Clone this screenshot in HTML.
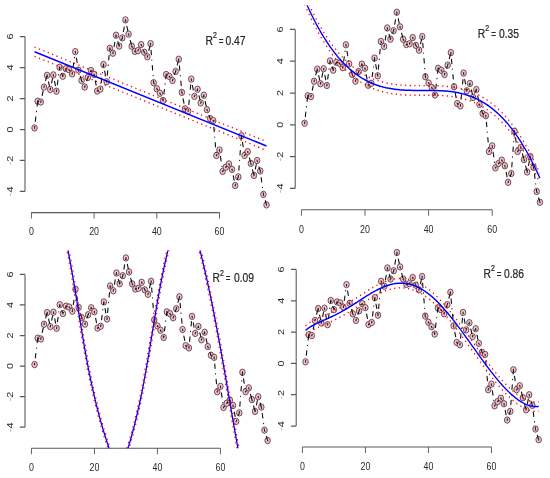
<!DOCTYPE html>
<html><head><meta charset="utf-8"><title>R regression fits</title><style>html,body{margin:0;padding:0;background:#fff;width:550px;height:478px;overflow:hidden}svg{display:block}</style></head><body><svg width="550" height="478" viewBox="0 0 550 478" font-family="Liberation Sans, Arial, sans-serif" fill="#2a2a2a"><rect width="550" height="478" fill="#fff"/><g transform="scale(0.86 1)"><defs><clipPath id="cp1"><rect x="29.07" y="12.50" width="291.63" height="200.10"/></clipPath><clipPath id="cp2"><rect x="343.26" y="5.50" width="295.47" height="204.30"/></clipPath><clipPath id="cp3"><rect x="29.07" y="250.60" width="293.02" height="197.60"/></clipPath><clipPath id="cp4"><rect x="344.42" y="245.00" width="293.95" height="202.00"/></clipPath></defs><g><path d="M29.07 191.42V36.62M29.07 191.42H23.02M29.07 160.46H23.02M29.07 129.50H23.02M29.07 98.54H23.02M29.07 67.58H23.02M29.07 36.62H23.02" stroke="#5a5a5a" stroke-width="1.25" fill="none"/><path d="M36.51 212.60H255.23M36.51 212.60V218.60M109.42 212.60V218.60M182.33 212.60V218.60M255.23 212.60V218.60" stroke="#5a5a5a" stroke-width="1.1" fill="none"/><text transform="translate(11.63 191.42) rotate(-90) scale(1 0.953)" y="3.89" font-size="10.8" text-anchor="middle"><tspan fill="#b8aa88">-</tspan>4</text><text transform="translate(11.63 160.46) rotate(-90) scale(1 0.953)" y="3.89" font-size="10.8" text-anchor="middle"><tspan fill="#b8aa88">-</tspan>2</text><text transform="translate(11.63 129.50) rotate(-90) scale(1 0.953)" y="3.89" font-size="10.8" text-anchor="middle">0</text><text transform="translate(11.63 98.54) rotate(-90) scale(1 0.953)" y="3.89" font-size="10.8" text-anchor="middle">2</text><text transform="translate(11.63 67.58) rotate(-90) scale(1 0.953)" y="3.89" font-size="10.8" text-anchor="middle">4</text><text transform="translate(11.63 36.62) rotate(-90) scale(1 0.953)" y="3.89" font-size="10.8" text-anchor="middle">6</text><text transform="translate(36.51 235.00) scale(0.953 1)" font-size="10.8" text-anchor="middle">0</text><text transform="translate(109.42 235.00) scale(0.953 1)" font-size="10.8" text-anchor="middle">20</text><text transform="translate(182.33 235.00) scale(0.953 1)" font-size="10.8" text-anchor="middle">40</text><text transform="translate(255.23 235.00) scale(0.953 1)" font-size="10.8" text-anchor="middle">60</text><g fill="#f8bfca" stroke="#3e3036" stroke-width="0.85"><circle cx="40.16" cy="127.95" r="3.2"/><circle cx="43.80" cy="101.20" r="3.2"/><circle cx="47.45" cy="102.00" r="3.2"/><circle cx="51.09" cy="87.10" r="3.2"/><circle cx="54.74" cy="75.30" r="3.2"/><circle cx="58.38" cy="89.50" r="3.2"/><circle cx="62.03" cy="74.90" r="3.2"/><circle cx="65.67" cy="91.20" r="3.2"/><circle cx="69.32" cy="67.30" r="3.2"/><circle cx="72.97" cy="76.30" r="3.2"/><circle cx="76.61" cy="68.70" r="3.2"/><circle cx="80.26" cy="69.70" r="3.2"/><circle cx="83.90" cy="73.90" r="3.2"/><circle cx="87.55" cy="51.60" r="3.2"/><circle cx="91.19" cy="70.10" r="3.2"/><circle cx="94.84" cy="80.50" r="3.2"/><circle cx="98.48" cy="87.00" r="3.2"/><circle cx="102.13" cy="77.50" r="3.2"/><circle cx="105.77" cy="70.40" r="3.2"/><circle cx="109.42" cy="74.40" r="3.2"/><circle cx="113.06" cy="91.00" r="3.2"/><circle cx="116.71" cy="89.10" r="3.2"/><circle cx="120.35" cy="64.50" r="3.2"/><circle cx="124.00" cy="81.80" r="3.2"/><circle cx="127.65" cy="48.30" r="3.2"/><circle cx="131.29" cy="53.20" r="3.2"/><circle cx="134.94" cy="35.20" r="3.2"/><circle cx="138.58" cy="46.10" r="3.2"/><circle cx="142.23" cy="37.90" r="3.2"/><circle cx="145.87" cy="19.90" r="3.2"/><circle cx="149.52" cy="34.10" r="3.2"/><circle cx="153.16" cy="46.20" r="3.2"/><circle cx="156.81" cy="51.40" r="3.2"/><circle cx="160.45" cy="50.60" r="3.2"/><circle cx="164.10" cy="44.60" r="3.2"/><circle cx="167.74" cy="52.20" r="3.2"/><circle cx="171.39" cy="56.80" r="3.2"/><circle cx="175.03" cy="43.60" r="3.2"/><circle cx="178.68" cy="82.70" r="3.2"/><circle cx="182.33" cy="88.80" r="3.2"/><circle cx="185.97" cy="93.20" r="3.2"/><circle cx="189.62" cy="100.50" r="3.2"/><circle cx="193.26" cy="74.50" r="3.2"/><circle cx="196.91" cy="76.40" r="3.2"/><circle cx="200.55" cy="80.50" r="3.2"/><circle cx="204.20" cy="71.40" r="3.2"/><circle cx="207.84" cy="59.20" r="3.2"/><circle cx="211.49" cy="92.40" r="3.2"/><circle cx="215.13" cy="108.80" r="3.2"/><circle cx="218.78" cy="111.10" r="3.2"/><circle cx="222.42" cy="79.10" r="3.2"/><circle cx="226.07" cy="96.40" r="3.2"/><circle cx="229.72" cy="89.30" r="3.2"/><circle cx="233.36" cy="102.90" r="3.2"/><circle cx="237.01" cy="95.20" r="3.2"/><circle cx="240.65" cy="109.70" r="3.2"/><circle cx="244.30" cy="118.50" r="3.2"/><circle cx="247.94" cy="120.60" r="3.2"/><circle cx="251.59" cy="155.50" r="3.2"/><circle cx="255.23" cy="150.00" r="3.2"/><circle cx="258.88" cy="171.40" r="3.2"/><circle cx="262.52" cy="167.20" r="3.2"/><circle cx="266.17" cy="163.90" r="3.2"/><circle cx="269.81" cy="169.40" r="3.2"/><circle cx="273.46" cy="185.50" r="3.2"/><circle cx="277.10" cy="176.90" r="3.2"/><circle cx="280.75" cy="135.80" r="3.2"/><circle cx="284.40" cy="155.50" r="3.2"/><circle cx="288.04" cy="151.60" r="3.2"/><circle cx="291.69" cy="163.40" r="3.2"/><circle cx="295.33" cy="175.40" r="3.2"/><circle cx="298.98" cy="160.50" r="3.2"/><circle cx="302.62" cy="171.00" r="3.2"/><circle cx="306.27" cy="194.40" r="3.2"/><circle cx="309.91" cy="204.90" r="3.2"/></g><g fill="#3a1820"><ellipse cx="40.16" cy="127.95" rx="0.75" ry="0.95"/><ellipse cx="43.80" cy="101.20" rx="0.75" ry="0.95"/><ellipse cx="47.45" cy="102.00" rx="0.75" ry="0.95"/><ellipse cx="51.09" cy="87.10" rx="0.75" ry="0.95"/><ellipse cx="54.74" cy="75.30" rx="0.75" ry="0.95"/><ellipse cx="58.38" cy="89.50" rx="0.75" ry="0.95"/><ellipse cx="62.03" cy="74.90" rx="0.75" ry="0.95"/><ellipse cx="65.67" cy="91.20" rx="0.75" ry="0.95"/><ellipse cx="69.32" cy="67.30" rx="0.75" ry="0.95"/><ellipse cx="72.97" cy="76.30" rx="0.75" ry="0.95"/><ellipse cx="76.61" cy="68.70" rx="0.75" ry="0.95"/><ellipse cx="80.26" cy="69.70" rx="0.75" ry="0.95"/><ellipse cx="83.90" cy="73.90" rx="0.75" ry="0.95"/><ellipse cx="87.55" cy="51.60" rx="0.75" ry="0.95"/><ellipse cx="91.19" cy="70.10" rx="0.75" ry="0.95"/><ellipse cx="94.84" cy="80.50" rx="0.75" ry="0.95"/><ellipse cx="98.48" cy="87.00" rx="0.75" ry="0.95"/><ellipse cx="102.13" cy="77.50" rx="0.75" ry="0.95"/><ellipse cx="105.77" cy="70.40" rx="0.75" ry="0.95"/><ellipse cx="109.42" cy="74.40" rx="0.75" ry="0.95"/><ellipse cx="113.06" cy="91.00" rx="0.75" ry="0.95"/><ellipse cx="116.71" cy="89.10" rx="0.75" ry="0.95"/><ellipse cx="120.35" cy="64.50" rx="0.75" ry="0.95"/><ellipse cx="124.00" cy="81.80" rx="0.75" ry="0.95"/><ellipse cx="127.65" cy="48.30" rx="0.75" ry="0.95"/><ellipse cx="131.29" cy="53.20" rx="0.75" ry="0.95"/><ellipse cx="134.94" cy="35.20" rx="0.75" ry="0.95"/><ellipse cx="138.58" cy="46.10" rx="0.75" ry="0.95"/><ellipse cx="142.23" cy="37.90" rx="0.75" ry="0.95"/><ellipse cx="145.87" cy="19.90" rx="0.75" ry="0.95"/><ellipse cx="149.52" cy="34.10" rx="0.75" ry="0.95"/><ellipse cx="153.16" cy="46.20" rx="0.75" ry="0.95"/><ellipse cx="156.81" cy="51.40" rx="0.75" ry="0.95"/><ellipse cx="160.45" cy="50.60" rx="0.75" ry="0.95"/><ellipse cx="164.10" cy="44.60" rx="0.75" ry="0.95"/><ellipse cx="167.74" cy="52.20" rx="0.75" ry="0.95"/><ellipse cx="171.39" cy="56.80" rx="0.75" ry="0.95"/><ellipse cx="175.03" cy="43.60" rx="0.75" ry="0.95"/><ellipse cx="178.68" cy="82.70" rx="0.75" ry="0.95"/><ellipse cx="182.33" cy="88.80" rx="0.75" ry="0.95"/><ellipse cx="185.97" cy="93.20" rx="0.75" ry="0.95"/><ellipse cx="189.62" cy="100.50" rx="0.75" ry="0.95"/><ellipse cx="193.26" cy="74.50" rx="0.75" ry="0.95"/><ellipse cx="196.91" cy="76.40" rx="0.75" ry="0.95"/><ellipse cx="200.55" cy="80.50" rx="0.75" ry="0.95"/><ellipse cx="204.20" cy="71.40" rx="0.75" ry="0.95"/><ellipse cx="207.84" cy="59.20" rx="0.75" ry="0.95"/><ellipse cx="211.49" cy="92.40" rx="0.75" ry="0.95"/><ellipse cx="215.13" cy="108.80" rx="0.75" ry="0.95"/><ellipse cx="218.78" cy="111.10" rx="0.75" ry="0.95"/><ellipse cx="222.42" cy="79.10" rx="0.75" ry="0.95"/><ellipse cx="226.07" cy="96.40" rx="0.75" ry="0.95"/><ellipse cx="229.72" cy="89.30" rx="0.75" ry="0.95"/><ellipse cx="233.36" cy="102.90" rx="0.75" ry="0.95"/><ellipse cx="237.01" cy="95.20" rx="0.75" ry="0.95"/><ellipse cx="240.65" cy="109.70" rx="0.75" ry="0.95"/><ellipse cx="244.30" cy="118.50" rx="0.75" ry="0.95"/><ellipse cx="247.94" cy="120.60" rx="0.75" ry="0.95"/><ellipse cx="251.59" cy="155.50" rx="0.75" ry="0.95"/><ellipse cx="255.23" cy="150.00" rx="0.75" ry="0.95"/><ellipse cx="258.88" cy="171.40" rx="0.75" ry="0.95"/><ellipse cx="262.52" cy="167.20" rx="0.75" ry="0.95"/><ellipse cx="266.17" cy="163.90" rx="0.75" ry="0.95"/><ellipse cx="269.81" cy="169.40" rx="0.75" ry="0.95"/><ellipse cx="273.46" cy="185.50" rx="0.75" ry="0.95"/><ellipse cx="277.10" cy="176.90" rx="0.75" ry="0.95"/><ellipse cx="280.75" cy="135.80" rx="0.75" ry="0.95"/><ellipse cx="284.40" cy="155.50" rx="0.75" ry="0.95"/><ellipse cx="288.04" cy="151.60" rx="0.75" ry="0.95"/><ellipse cx="291.69" cy="163.40" rx="0.75" ry="0.95"/><ellipse cx="295.33" cy="175.40" rx="0.75" ry="0.95"/><ellipse cx="298.98" cy="160.50" rx="0.75" ry="0.95"/><ellipse cx="302.62" cy="171.00" rx="0.75" ry="0.95"/><ellipse cx="306.27" cy="194.40" rx="0.75" ry="0.95"/><ellipse cx="309.91" cy="204.90" rx="0.75" ry="0.95"/></g><g stroke="#111" stroke-width="1.3" stroke-linecap="round" stroke-dasharray="0.1 5.5 4.3 5.5"><line x1="40.31" y1="126.81" x2="43.65" y2="102.34"/><line x1="44.93" y1="101.45" x2="46.32" y2="101.75"/><line x1="47.72" y1="100.88" x2="50.82" y2="88.22"/><line x1="51.43" y1="86.00" x2="54.40" y2="76.40"/><line x1="55.02" y1="76.41" x2="58.10" y2="88.39"/><line x1="58.66" y1="88.38" x2="61.75" y2="76.02"/><line x1="62.28" y1="76.02" x2="65.42" y2="90.08"/><line x1="65.85" y1="90.06" x2="69.15" y2="68.44"/><line x1="69.75" y1="68.37" x2="72.53" y2="75.23"/><line x1="73.46" y1="75.26" x2="76.11" y2="69.74"/><line x1="77.72" y1="69.00" x2="79.15" y2="69.40"/><line x1="81.01" y1="70.57" x2="83.15" y2="73.03"/><line x1="84.09" y1="72.77" x2="87.36" y2="52.73"/><line x1="87.77" y1="52.73" x2="90.97" y2="68.97"/><line x1="91.57" y1="71.19" x2="94.46" y2="79.41"/><line x1="95.40" y1="81.50" x2="97.92" y2="86.00"/><line x1="98.89" y1="85.93" x2="101.72" y2="78.57"/><line x1="102.65" y1="76.48" x2="105.25" y2="71.42"/><line x1="106.55" y1="71.25" x2="108.64" y2="73.55"/><line x1="109.67" y1="75.52" x2="112.82" y2="89.88"/><line x1="114.08" y1="90.47" x2="115.69" y2="89.63"/><line x1="116.88" y1="87.96" x2="120.19" y2="65.64"/><line x1="120.59" y1="65.63" x2="123.76" y2="80.67"/><line x1="124.12" y1="80.66" x2="127.52" y2="49.44"/><line x1="128.33" y1="49.22" x2="130.60" y2="52.28"/><line x1="131.52" y1="52.07" x2="134.71" y2="36.33"/><line x1="135.30" y1="36.29" x2="138.22" y2="45.01"/><line x1="139.05" y1="45.05" x2="141.76" y2="38.95"/><line x1="142.46" y1="36.77" x2="145.64" y2="21.03"/><line x1="146.16" y1="21.01" x2="149.23" y2="32.99"/><line x1="149.85" y1="35.20" x2="152.83" y2="45.10"/><line x1="153.82" y1="47.14" x2="156.15" y2="50.46"/><line x1="157.93" y1="51.15" x2="159.33" y2="50.85"/><line x1="161.05" y1="49.62" x2="163.50" y2="45.58"/><line x1="164.60" y1="45.64" x2="167.25" y2="51.16"/><line x1="168.46" y1="53.10" x2="170.68" y2="55.90"/><line x1="171.70" y1="55.69" x2="174.73" y2="44.71"/><line x1="175.14" y1="44.75" x2="178.57" y2="81.55"/><line x1="179.27" y1="83.69" x2="181.74" y2="87.81"/><line x1="183.06" y1="89.69" x2="185.24" y2="92.31"/><line x1="186.48" y1="94.23" x2="189.10" y2="99.47"/><line x1="189.78" y1="99.36" x2="193.10" y2="75.64"/><line x1="194.28" y1="75.03" x2="195.89" y2="75.87"/><line x1="197.67" y1="77.26" x2="199.79" y2="79.64"/><line x1="200.98" y1="79.43" x2="203.77" y2="72.47"/><line x1="204.53" y1="70.30" x2="207.51" y2="60.30"/><line x1="207.97" y1="60.34" x2="211.36" y2="91.26"/><line x1="211.74" y1="93.52" x2="214.88" y2="107.68"/><line x1="216.11" y1="109.41" x2="217.81" y2="110.49"/><line x1="218.91" y1="109.96" x2="222.29" y2="80.24"/><line x1="222.66" y1="80.23" x2="225.83" y2="95.27"/><line x1="226.60" y1="95.38" x2="229.19" y2="90.32"/><line x1="230.01" y1="90.41" x2="233.06" y2="101.79"/><line x1="233.85" y1="101.86" x2="236.51" y2="96.24"/><line x1="237.29" y1="96.32" x2="240.37" y2="108.58"/><line x1="241.09" y1="110.76" x2="243.86" y2="117.44"/><line x1="245.29" y1="119.07" x2="246.95" y2="120.03"/><line x1="248.06" y1="121.74" x2="251.47" y2="154.36"/><line x1="252.22" y1="154.54" x2="254.60" y2="150.96"/><line x1="255.43" y1="151.13" x2="258.68" y2="170.27"/><line x1="259.63" y1="170.53" x2="261.77" y2="168.07"/><line x1="263.38" y1="166.43" x2="265.32" y2="164.67"/><line x1="266.80" y1="164.86" x2="269.18" y2="168.44"/><line x1="270.07" y1="170.52" x2="273.21" y2="184.38"/><line x1="273.91" y1="184.44" x2="276.66" y2="177.96"/><line x1="277.21" y1="175.75" x2="280.65" y2="136.95"/><line x1="280.96" y1="136.93" x2="284.19" y2="154.37"/><line x1="285.18" y1="154.66" x2="287.26" y2="152.44"/><line x1="288.38" y1="152.70" x2="291.35" y2="162.30"/><line x1="292.02" y1="164.50" x2="295.00" y2="174.30"/><line x1="295.60" y1="174.28" x2="298.70" y2="161.62"/><line x1="299.35" y1="161.59" x2="302.24" y2="169.91"/><line x1="302.80" y1="172.14" x2="306.09" y2="193.26"/><line x1="306.64" y1="195.49" x2="309.54" y2="203.81"/></g><g clip-path="url(#cp1)"><path d="M40.16 51.70L309.91 146.00" stroke="#0000ff" stroke-width="1.5" fill="none"/><path d="M40.16 47.10L309.91 141.60" stroke="#ff0000" stroke-width="1.4" fill="none" stroke-dasharray="1.4 4.0" stroke-dashoffset="0"/><path d="M40.16 56.30L309.91 150.40" stroke="#ff0000" stroke-width="1.4" fill="none" stroke-dasharray="1.4 4.0" stroke-dashoffset="0"/></g><text transform="translate(238.84 45.00) scale(0.953 1)" font-size="12.6" text-anchor="start" stroke="#2a2a2a" stroke-width="0.25">R</text><text transform="translate(247.56 38.40) scale(0.953 1)" font-size="8.568" text-anchor="start" stroke="#2a2a2a" stroke-width="0.25">2</text><text transform="translate(257.21 45.00) scale(0.744 1)" font-size="12.6" text-anchor="middle" stroke="#2a2a2a" stroke-width="0.25">=</text><text transform="translate(285.58 45.00) scale(0.953 1)" font-size="12.6" text-anchor="end" stroke="#2a2a2a" stroke-width="0.25">0.47</text></g><g><path d="M343.26 188.40V29.40M343.26 188.40H337.21M343.26 156.60H337.21M343.26 124.80H337.21M343.26 93.00H337.21M343.26 61.20H337.21M343.26 29.40H337.21" stroke="#5a5a5a" stroke-width="1.25" fill="none"/><path d="M350.47 209.80H572.33M350.47 209.80V215.80M424.42 209.80V215.80M498.37 209.80V215.80M572.33 209.80V215.80" stroke="#5a5a5a" stroke-width="1.1" fill="none"/><text transform="translate(325.81 188.40) rotate(-90) scale(1 0.953)" y="3.89" font-size="10.8" text-anchor="middle"><tspan fill="#b8aa88">-</tspan>4</text><text transform="translate(325.81 156.60) rotate(-90) scale(1 0.953)" y="3.89" font-size="10.8" text-anchor="middle"><tspan fill="#b8aa88">-</tspan>2</text><text transform="translate(325.81 124.80) rotate(-90) scale(1 0.953)" y="3.89" font-size="10.8" text-anchor="middle">0</text><text transform="translate(325.81 93.00) rotate(-90) scale(1 0.953)" y="3.89" font-size="10.8" text-anchor="middle">2</text><text transform="translate(325.81 61.20) rotate(-90) scale(1 0.953)" y="3.89" font-size="10.8" text-anchor="middle">4</text><text transform="translate(325.81 29.40) rotate(-90) scale(1 0.953)" y="3.89" font-size="10.8" text-anchor="middle">6</text><text transform="translate(350.47 233.10) scale(0.953 1)" font-size="10.8" text-anchor="middle">0</text><text transform="translate(424.42 233.10) scale(0.953 1)" font-size="10.8" text-anchor="middle">20</text><text transform="translate(498.37 233.10) scale(0.953 1)" font-size="10.8" text-anchor="middle">40</text><text transform="translate(572.33 233.10) scale(0.953 1)" font-size="10.8" text-anchor="middle">60</text><g fill="#f8bfca" stroke="#3e3036" stroke-width="0.85"><circle cx="354.16" cy="123.21" r="3.2"/><circle cx="357.86" cy="95.73" r="3.2"/><circle cx="361.56" cy="96.55" r="3.2"/><circle cx="365.26" cy="81.25" r="3.2"/><circle cx="368.95" cy="69.13" r="3.2"/><circle cx="372.65" cy="83.71" r="3.2"/><circle cx="376.35" cy="68.72" r="3.2"/><circle cx="380.05" cy="85.46" r="3.2"/><circle cx="383.74" cy="60.91" r="3.2"/><circle cx="387.44" cy="70.16" r="3.2"/><circle cx="391.14" cy="62.35" r="3.2"/><circle cx="394.84" cy="63.38" r="3.2"/><circle cx="398.53" cy="67.69" r="3.2"/><circle cx="402.23" cy="44.79" r="3.2"/><circle cx="405.93" cy="63.79" r="3.2"/><circle cx="409.63" cy="74.47" r="3.2"/><circle cx="413.33" cy="81.15" r="3.2"/><circle cx="417.02" cy="71.39" r="3.2"/><circle cx="420.72" cy="64.10" r="3.2"/><circle cx="424.42" cy="68.21" r="3.2"/><circle cx="428.12" cy="85.26" r="3.2"/><circle cx="431.81" cy="83.30" r="3.2"/><circle cx="435.51" cy="58.04" r="3.2"/><circle cx="439.21" cy="75.81" r="3.2"/><circle cx="442.91" cy="41.40" r="3.2"/><circle cx="446.60" cy="46.43" r="3.2"/><circle cx="450.30" cy="27.94" r="3.2"/><circle cx="454.00" cy="39.14" r="3.2"/><circle cx="457.70" cy="30.71" r="3.2"/><circle cx="461.40" cy="12.23" r="3.2"/><circle cx="465.09" cy="26.81" r="3.2"/><circle cx="468.79" cy="39.24" r="3.2"/><circle cx="472.49" cy="44.58" r="3.2"/><circle cx="476.19" cy="43.76" r="3.2"/><circle cx="479.88" cy="37.60" r="3.2"/><circle cx="483.58" cy="45.40" r="3.2"/><circle cx="487.28" cy="50.13" r="3.2"/><circle cx="490.98" cy="36.57" r="3.2"/><circle cx="494.67" cy="76.73" r="3.2"/><circle cx="498.37" cy="83.00" r="3.2"/><circle cx="502.07" cy="87.52" r="3.2"/><circle cx="505.77" cy="95.01" r="3.2"/><circle cx="509.47" cy="68.31" r="3.2"/><circle cx="513.16" cy="70.26" r="3.2"/><circle cx="516.86" cy="74.47" r="3.2"/><circle cx="520.56" cy="65.12" r="3.2"/><circle cx="524.26" cy="52.59" r="3.2"/><circle cx="527.95" cy="86.69" r="3.2"/><circle cx="531.65" cy="103.54" r="3.2"/><circle cx="535.35" cy="105.90" r="3.2"/><circle cx="539.05" cy="73.03" r="3.2"/><circle cx="542.74" cy="90.80" r="3.2"/><circle cx="546.44" cy="83.51" r="3.2"/><circle cx="550.14" cy="97.48" r="3.2"/><circle cx="553.84" cy="89.57" r="3.2"/><circle cx="557.53" cy="104.46" r="3.2"/><circle cx="561.23" cy="113.50" r="3.2"/><circle cx="564.93" cy="115.66" r="3.2"/><circle cx="568.63" cy="151.51" r="3.2"/><circle cx="572.33" cy="145.86" r="3.2"/><circle cx="576.02" cy="167.84" r="3.2"/><circle cx="579.72" cy="163.52" r="3.2"/><circle cx="583.42" cy="160.13" r="3.2"/><circle cx="587.12" cy="165.78" r="3.2"/><circle cx="590.81" cy="182.32" r="3.2"/><circle cx="594.51" cy="173.49" r="3.2"/><circle cx="598.21" cy="131.27" r="3.2"/><circle cx="601.91" cy="151.51" r="3.2"/><circle cx="605.60" cy="147.50" r="3.2"/><circle cx="609.30" cy="159.62" r="3.2"/><circle cx="613.00" cy="171.95" r="3.2"/><circle cx="616.70" cy="156.64" r="3.2"/><circle cx="620.40" cy="167.43" r="3.2"/><circle cx="624.09" cy="191.46" r="3.2"/><circle cx="627.79" cy="202.25" r="3.2"/></g><g fill="#3a1820"><ellipse cx="354.16" cy="123.21" rx="0.75" ry="0.95"/><ellipse cx="357.86" cy="95.73" rx="0.75" ry="0.95"/><ellipse cx="361.56" cy="96.55" rx="0.75" ry="0.95"/><ellipse cx="365.26" cy="81.25" rx="0.75" ry="0.95"/><ellipse cx="368.95" cy="69.13" rx="0.75" ry="0.95"/><ellipse cx="372.65" cy="83.71" rx="0.75" ry="0.95"/><ellipse cx="376.35" cy="68.72" rx="0.75" ry="0.95"/><ellipse cx="380.05" cy="85.46" rx="0.75" ry="0.95"/><ellipse cx="383.74" cy="60.91" rx="0.75" ry="0.95"/><ellipse cx="387.44" cy="70.16" rx="0.75" ry="0.95"/><ellipse cx="391.14" cy="62.35" rx="0.75" ry="0.95"/><ellipse cx="394.84" cy="63.38" rx="0.75" ry="0.95"/><ellipse cx="398.53" cy="67.69" rx="0.75" ry="0.95"/><ellipse cx="402.23" cy="44.79" rx="0.75" ry="0.95"/><ellipse cx="405.93" cy="63.79" rx="0.75" ry="0.95"/><ellipse cx="409.63" cy="74.47" rx="0.75" ry="0.95"/><ellipse cx="413.33" cy="81.15" rx="0.75" ry="0.95"/><ellipse cx="417.02" cy="71.39" rx="0.75" ry="0.95"/><ellipse cx="420.72" cy="64.10" rx="0.75" ry="0.95"/><ellipse cx="424.42" cy="68.21" rx="0.75" ry="0.95"/><ellipse cx="428.12" cy="85.26" rx="0.75" ry="0.95"/><ellipse cx="431.81" cy="83.30" rx="0.75" ry="0.95"/><ellipse cx="435.51" cy="58.04" rx="0.75" ry="0.95"/><ellipse cx="439.21" cy="75.81" rx="0.75" ry="0.95"/><ellipse cx="442.91" cy="41.40" rx="0.75" ry="0.95"/><ellipse cx="446.60" cy="46.43" rx="0.75" ry="0.95"/><ellipse cx="450.30" cy="27.94" rx="0.75" ry="0.95"/><ellipse cx="454.00" cy="39.14" rx="0.75" ry="0.95"/><ellipse cx="457.70" cy="30.71" rx="0.75" ry="0.95"/><ellipse cx="461.40" cy="12.23" rx="0.75" ry="0.95"/><ellipse cx="465.09" cy="26.81" rx="0.75" ry="0.95"/><ellipse cx="468.79" cy="39.24" rx="0.75" ry="0.95"/><ellipse cx="472.49" cy="44.58" rx="0.75" ry="0.95"/><ellipse cx="476.19" cy="43.76" rx="0.75" ry="0.95"/><ellipse cx="479.88" cy="37.60" rx="0.75" ry="0.95"/><ellipse cx="483.58" cy="45.40" rx="0.75" ry="0.95"/><ellipse cx="487.28" cy="50.13" rx="0.75" ry="0.95"/><ellipse cx="490.98" cy="36.57" rx="0.75" ry="0.95"/><ellipse cx="494.67" cy="76.73" rx="0.75" ry="0.95"/><ellipse cx="498.37" cy="83.00" rx="0.75" ry="0.95"/><ellipse cx="502.07" cy="87.52" rx="0.75" ry="0.95"/><ellipse cx="505.77" cy="95.01" rx="0.75" ry="0.95"/><ellipse cx="509.47" cy="68.31" rx="0.75" ry="0.95"/><ellipse cx="513.16" cy="70.26" rx="0.75" ry="0.95"/><ellipse cx="516.86" cy="74.47" rx="0.75" ry="0.95"/><ellipse cx="520.56" cy="65.12" rx="0.75" ry="0.95"/><ellipse cx="524.26" cy="52.59" rx="0.75" ry="0.95"/><ellipse cx="527.95" cy="86.69" rx="0.75" ry="0.95"/><ellipse cx="531.65" cy="103.54" rx="0.75" ry="0.95"/><ellipse cx="535.35" cy="105.90" rx="0.75" ry="0.95"/><ellipse cx="539.05" cy="73.03" rx="0.75" ry="0.95"/><ellipse cx="542.74" cy="90.80" rx="0.75" ry="0.95"/><ellipse cx="546.44" cy="83.51" rx="0.75" ry="0.95"/><ellipse cx="550.14" cy="97.48" rx="0.75" ry="0.95"/><ellipse cx="553.84" cy="89.57" rx="0.75" ry="0.95"/><ellipse cx="557.53" cy="104.46" rx="0.75" ry="0.95"/><ellipse cx="561.23" cy="113.50" rx="0.75" ry="0.95"/><ellipse cx="564.93" cy="115.66" rx="0.75" ry="0.95"/><ellipse cx="568.63" cy="151.51" rx="0.75" ry="0.95"/><ellipse cx="572.33" cy="145.86" rx="0.75" ry="0.95"/><ellipse cx="576.02" cy="167.84" rx="0.75" ry="0.95"/><ellipse cx="579.72" cy="163.52" rx="0.75" ry="0.95"/><ellipse cx="583.42" cy="160.13" rx="0.75" ry="0.95"/><ellipse cx="587.12" cy="165.78" rx="0.75" ry="0.95"/><ellipse cx="590.81" cy="182.32" rx="0.75" ry="0.95"/><ellipse cx="594.51" cy="173.49" rx="0.75" ry="0.95"/><ellipse cx="598.21" cy="131.27" rx="0.75" ry="0.95"/><ellipse cx="601.91" cy="151.51" rx="0.75" ry="0.95"/><ellipse cx="605.60" cy="147.50" rx="0.75" ry="0.95"/><ellipse cx="609.30" cy="159.62" rx="0.75" ry="0.95"/><ellipse cx="613.00" cy="171.95" rx="0.75" ry="0.95"/><ellipse cx="616.70" cy="156.64" rx="0.75" ry="0.95"/><ellipse cx="620.40" cy="167.43" rx="0.75" ry="0.95"/><ellipse cx="624.09" cy="191.46" rx="0.75" ry="0.95"/><ellipse cx="627.79" cy="202.25" rx="0.75" ry="0.95"/></g><g stroke="#111" stroke-width="1.3" stroke-linecap="round" stroke-dasharray="0.1 5.5 4.3 5.5"><line x1="354.32" y1="122.07" x2="357.71" y2="96.87"/><line x1="358.98" y1="95.98" x2="360.44" y2="96.30"/><line x1="361.83" y1="95.44" x2="364.99" y2="82.37"/><line x1="365.59" y1="80.15" x2="368.62" y2="70.23"/><line x1="369.24" y1="70.24" x2="372.37" y2="82.60"/><line x1="372.93" y1="82.60" x2="376.07" y2="69.84"/><line x1="376.60" y1="69.84" x2="379.80" y2="84.34"/><line x1="380.22" y1="84.32" x2="383.57" y2="62.05"/><line x1="384.17" y1="61.98" x2="387.01" y2="69.09"/><line x1="387.93" y1="69.12" x2="390.65" y2="63.39"/><line x1="392.25" y1="62.66" x2="393.73" y2="63.07"/><line x1="395.59" y1="64.25" x2="397.79" y2="66.82"/><line x1="398.72" y1="66.56" x2="402.05" y2="45.92"/><line x1="402.45" y1="45.92" x2="405.71" y2="62.66"/><line x1="406.31" y1="64.88" x2="409.25" y2="73.38"/><line x1="410.19" y1="75.48" x2="412.77" y2="80.14"/><line x1="413.73" y1="80.07" x2="416.62" y2="72.46"/><line x1="417.54" y1="70.36" x2="420.20" y2="65.12"/><line x1="421.49" y1="64.95" x2="423.65" y2="67.35"/><line x1="424.66" y1="69.33" x2="427.87" y2="84.13"/><line x1="429.13" y1="84.72" x2="430.80" y2="83.84"/><line x1="431.98" y1="82.17" x2="435.35" y2="59.17"/><line x1="435.75" y1="59.16" x2="438.98" y2="74.68"/><line x1="439.33" y1="74.66" x2="442.78" y2="42.54"/><line x1="443.59" y1="42.32" x2="445.92" y2="45.50"/><line x1="446.83" y1="45.30" x2="450.08" y2="29.07"/><line x1="450.66" y1="29.03" x2="453.64" y2="38.05"/><line x1="454.46" y1="38.08" x2="457.24" y2="31.77"/><line x1="457.92" y1="29.59" x2="461.17" y2="13.35"/><line x1="461.68" y1="13.34" x2="464.81" y2="25.70"/><line x1="465.42" y1="27.91" x2="468.46" y2="38.14"/><line x1="469.45" y1="40.19" x2="471.83" y2="43.64"/><line x1="473.61" y1="44.33" x2="475.06" y2="44.01"/><line x1="476.78" y1="42.77" x2="479.29" y2="38.58"/><line x1="480.38" y1="38.64" x2="483.09" y2="44.36"/><line x1="484.29" y1="46.31" x2="486.57" y2="49.22"/><line x1="487.58" y1="49.02" x2="490.67" y2="37.68"/><line x1="491.08" y1="37.71" x2="494.57" y2="75.59"/><line x1="495.26" y1="77.72" x2="497.79" y2="82.01"/><line x1="499.10" y1="83.89" x2="501.34" y2="86.63"/><line x1="502.58" y1="88.55" x2="505.26" y2="93.98"/><line x1="505.93" y1="93.87" x2="509.31" y2="69.45"/><line x1="510.48" y1="68.84" x2="512.15" y2="69.72"/><line x1="513.92" y1="71.12" x2="516.10" y2="73.61"/><line x1="517.28" y1="73.40" x2="520.14" y2="66.19"/><line x1="520.88" y1="64.02" x2="523.93" y2="53.70"/><line x1="524.38" y1="53.74" x2="527.83" y2="85.55"/><line x1="528.20" y1="87.82" x2="531.40" y2="102.42"/><line x1="532.62" y1="104.16" x2="534.38" y2="105.28"/><line x1="535.48" y1="104.76" x2="538.92" y2="74.18"/><line x1="539.28" y1="74.16" x2="542.51" y2="89.68"/><line x1="543.26" y1="89.78" x2="545.92" y2="84.53"/><line x1="546.74" y1="84.62" x2="549.85" y2="96.37"/><line x1="550.63" y1="96.44" x2="553.35" y2="90.61"/><line x1="554.11" y1="90.69" x2="557.26" y2="103.35"/><line x1="557.97" y1="105.53" x2="560.80" y2="112.44"/><line x1="562.23" y1="114.08" x2="563.94" y2="115.08"/><line x1="565.05" y1="116.80" x2="568.51" y2="150.36"/><line x1="569.26" y1="150.54" x2="571.70" y2="146.82"/><line x1="572.52" y1="146.99" x2="575.83" y2="166.70"/><line x1="576.77" y1="166.96" x2="578.97" y2="164.40"/><line x1="580.57" y1="162.75" x2="582.57" y2="160.91"/><line x1="584.05" y1="161.10" x2="586.49" y2="164.82"/><line x1="587.37" y1="166.90" x2="590.56" y2="181.20"/><line x1="591.26" y1="181.26" x2="594.07" y2="174.55"/><line x1="594.61" y1="172.34" x2="598.11" y2="132.42"/><line x1="598.42" y1="132.40" x2="601.70" y2="150.37"/><line x1="602.69" y1="150.66" x2="604.82" y2="148.34"/><line x1="605.94" y1="148.60" x2="608.97" y2="158.52"/><line x1="609.63" y1="160.72" x2="612.67" y2="170.84"/><line x1="613.27" y1="170.83" x2="616.43" y2="157.76"/><line x1="617.07" y1="157.73" x2="620.02" y2="166.34"/><line x1="620.57" y1="168.56" x2="623.92" y2="190.32"/><line x1="624.47" y1="192.55" x2="627.42" y2="201.16"/></g><g clip-path="url(#cp2)"><path d="M354.16 -0.38L355.88 2.99L357.60 6.27L359.33 9.48L361.05 12.60L362.77 15.64L364.49 18.60L366.21 21.48L367.93 24.28L369.65 27.00L371.37 29.65L373.09 32.23L374.81 34.73L376.53 37.16L378.26 39.52L379.98 41.80L381.70 44.02L383.42 46.17L385.14 48.25L386.86 50.27L388.58 52.22L390.30 54.10L392.02 55.92L393.74 57.69L395.47 59.39L397.19 61.03L398.91 62.61L400.63 64.13L402.35 65.60L404.07 67.01L405.79 68.37L407.51 69.67L409.23 70.93L410.95 72.13L412.67 73.28L414.40 74.38L416.12 75.43L417.84 76.44L419.56 77.40L421.28 78.31L423.00 79.18L424.72 80.01L426.44 80.80L428.16 81.55L429.88 82.26L431.60 82.92L433.33 83.56L435.05 84.15L436.77 84.71L438.49 85.24L440.21 85.73L441.93 86.19L443.65 86.62L445.37 87.02L447.09 87.39L448.81 87.74L450.53 88.05L452.26 88.34L453.98 88.61L455.70 88.85L457.42 89.07L459.14 89.27L460.86 89.45L462.58 89.61L464.30 89.75L466.02 89.88L467.74 89.99L469.47 90.08L471.19 90.16L472.91 90.23L474.63 90.28L476.35 90.33L478.07 90.37L479.79 90.39L481.51 90.41L483.23 90.42L484.95 90.43L486.67 90.44L488.40 90.44L490.12 90.43L491.84 90.43L493.56 90.43L495.28 90.43L497.00 90.43L498.72 90.43L500.44 90.44L502.16 90.45L503.88 90.47L505.60 90.50L507.33 90.54L509.05 90.58L510.77 90.64L512.49 90.71L514.21 90.79L515.93 90.88L517.65 90.99L519.37 91.12L521.09 91.26L522.81 91.43L524.53 91.61L526.26 91.81L527.98 92.03L529.70 92.28L531.42 92.54L533.14 92.84L534.86 93.16L536.58 93.50L538.30 93.88L540.02 94.28L541.74 94.71L543.47 95.17L545.19 95.67L546.91 96.20L548.63 96.76L550.35 97.36L552.07 97.99L553.79 98.67L555.51 99.38L557.23 100.13L558.95 100.92L560.67 101.75L562.40 102.62L564.12 103.54L565.84 104.51L567.56 105.52L569.28 106.58L571.00 107.68L572.72 108.84L574.44 110.04L576.16 111.30L577.88 112.60L579.60 113.97L581.33 115.38L583.05 116.86L584.77 118.38L586.49 119.97L588.21 121.62L589.93 123.32L591.65 125.09L593.37 126.92L595.09 128.81L596.81 130.76L598.53 132.78L600.26 134.87L601.98 137.02L603.70 139.25L605.42 141.54L607.14 143.90L608.86 146.34L610.58 148.84L612.30 151.43L614.02 154.08L615.74 156.81L617.47 159.62L619.19 162.51L620.91 165.48L622.63 168.52L624.35 171.65L626.07 174.86L627.79 178.15" stroke="#0000ff" stroke-width="1.5" fill="none"/><path d="M354.16 -5.18L355.88 -1.81L357.60 1.47L359.33 4.68L361.05 7.80L362.77 10.84L364.49 13.80L366.21 16.68L367.93 19.48L369.65 22.20L371.37 24.85L373.09 27.43L374.81 29.93L376.53 32.36L378.26 34.72L379.98 37.00L381.70 39.22L383.42 41.37L385.14 43.45L386.86 45.47L388.58 47.42L390.30 49.30L392.02 51.12L393.74 52.89L395.47 54.59L397.19 56.23L398.91 57.81L400.63 59.33L402.35 60.80L404.07 62.21L405.79 63.57L407.51 64.87L409.23 66.13L410.95 67.33L412.67 68.48L414.40 69.58L416.12 70.63L417.84 71.64L419.56 72.60L421.28 73.51L423.00 74.38L424.72 75.21L426.44 76.00L428.16 76.75L429.88 77.46L431.60 78.12L433.33 78.76L435.05 79.35L436.77 79.91L438.49 80.44L440.21 80.93L441.93 81.39L443.65 81.82L445.37 82.22L447.09 82.59L448.81 82.94L450.53 83.25L452.26 83.54L453.98 83.81L455.70 84.05L457.42 84.27L459.14 84.47L460.86 84.65L462.58 84.81L464.30 84.95L466.02 85.08L467.74 85.19L469.47 85.28L471.19 85.36L472.91 85.43L474.63 85.48L476.35 85.53L478.07 85.57L479.79 85.59L481.51 85.61L483.23 85.62L484.95 85.63L486.67 85.64L488.40 85.64L490.12 85.63L491.84 85.63L493.56 85.63L495.28 85.63L497.00 85.63L498.72 85.63L500.44 85.64L502.16 85.65L503.88 85.67L505.60 85.70L507.33 85.74L509.05 85.78L510.77 85.84L512.49 85.91L514.21 85.99L515.93 86.08L517.65 86.19L519.37 86.32L521.09 86.46L522.81 86.63L524.53 86.81L526.26 87.01L527.98 87.23L529.70 87.48L531.42 87.74L533.14 88.04L534.86 88.36L536.58 88.70L538.30 89.08L540.02 89.48L541.74 89.91L543.47 90.37L545.19 90.87L546.91 91.40L548.63 91.96L550.35 92.56L552.07 93.19L553.79 93.87L555.51 94.58L557.23 95.33L558.95 96.12L560.67 96.95L562.40 97.82L564.12 98.74L565.84 99.71L567.56 100.72L569.28 101.78L571.00 102.88L572.72 104.04L574.44 105.24L576.16 106.50L577.88 107.80L579.60 109.17L581.33 110.58L583.05 112.06L584.77 113.58L586.49 115.17L588.21 116.82L589.93 118.52L591.65 120.29L593.37 122.12L595.09 124.01L596.81 125.96L598.53 127.98L600.26 130.07L601.98 132.22L603.70 134.45L605.42 136.74L607.14 139.10L608.86 141.54L610.58 144.04L612.30 146.63L614.02 149.28L615.74 152.01L617.47 154.82L619.19 157.71L620.91 160.68L622.63 163.72L624.35 166.85L626.07 170.06L627.79 173.35" stroke="#ff0000" stroke-width="1.4" fill="none" stroke-dasharray="1.4 4.0" stroke-dashoffset="0"/><path d="M354.16 4.42L355.88 7.79L357.60 11.07L359.33 14.28L361.05 17.40L362.77 20.44L364.49 23.40L366.21 26.28L367.93 29.08L369.65 31.80L371.37 34.45L373.09 37.03L374.81 39.53L376.53 41.96L378.26 44.32L379.98 46.60L381.70 48.82L383.42 50.97L385.14 53.05L386.86 55.07L388.58 57.02L390.30 58.90L392.02 60.72L393.74 62.49L395.47 64.19L397.19 65.83L398.91 67.41L400.63 68.93L402.35 70.40L404.07 71.81L405.79 73.17L407.51 74.47L409.23 75.73L410.95 76.93L412.67 78.08L414.40 79.18L416.12 80.23L417.84 81.24L419.56 82.20L421.28 83.11L423.00 83.98L424.72 84.81L426.44 85.60L428.16 86.35L429.88 87.06L431.60 87.72L433.33 88.36L435.05 88.95L436.77 89.51L438.49 90.04L440.21 90.53L441.93 90.99L443.65 91.42L445.37 91.82L447.09 92.19L448.81 92.54L450.53 92.85L452.26 93.14L453.98 93.41L455.70 93.65L457.42 93.87L459.14 94.07L460.86 94.25L462.58 94.41L464.30 94.55L466.02 94.68L467.74 94.79L469.47 94.88L471.19 94.96L472.91 95.03L474.63 95.08L476.35 95.13L478.07 95.17L479.79 95.19L481.51 95.21L483.23 95.22L484.95 95.23L486.67 95.24L488.40 95.24L490.12 95.23L491.84 95.23L493.56 95.23L495.28 95.23L497.00 95.23L498.72 95.23L500.44 95.24L502.16 95.25L503.88 95.27L505.60 95.30L507.33 95.34L509.05 95.38L510.77 95.44L512.49 95.51L514.21 95.59L515.93 95.68L517.65 95.79L519.37 95.92L521.09 96.06L522.81 96.23L524.53 96.41L526.26 96.61L527.98 96.83L529.70 97.08L531.42 97.34L533.14 97.64L534.86 97.96L536.58 98.30L538.30 98.68L540.02 99.08L541.74 99.51L543.47 99.97L545.19 100.47L546.91 101.00L548.63 101.56L550.35 102.16L552.07 102.79L553.79 103.47L555.51 104.18L557.23 104.93L558.95 105.72L560.67 106.55L562.40 107.42L564.12 108.34L565.84 109.31L567.56 110.32L569.28 111.38L571.00 112.48L572.72 113.64L574.44 114.84L576.16 116.10L577.88 117.40L579.60 118.77L581.33 120.18L583.05 121.66L584.77 123.18L586.49 124.77L588.21 126.42L589.93 128.12L591.65 129.89L593.37 131.72L595.09 133.61L596.81 135.56L598.53 137.58L600.26 139.67L601.98 141.82L603.70 144.05L605.42 146.34L607.14 148.70L608.86 151.14L610.58 153.64L612.30 156.23L614.02 158.88L615.74 161.61L617.47 164.42L619.19 167.31L620.91 170.28L622.63 173.32L624.35 176.45L626.07 179.66L627.79 182.95" stroke="#ff0000" stroke-width="1.4" fill="none" stroke-dasharray="1.4 4.0" stroke-dashoffset="0"/></g><text transform="translate(555.47 37.50) scale(0.953 1)" font-size="12.6" text-anchor="start" stroke="#2a2a2a" stroke-width="0.25">R</text><text transform="translate(564.19 30.90) scale(0.953 1)" font-size="8.568" text-anchor="start" stroke="#2a2a2a" stroke-width="0.25">2</text><text transform="translate(573.84 37.50) scale(0.744 1)" font-size="12.6" text-anchor="middle" stroke="#2a2a2a" stroke-width="0.25">=</text><text transform="translate(603.49 37.50) scale(0.953 1)" font-size="12.6" text-anchor="end" stroke="#2a2a2a" stroke-width="0.25">0.35</text></g><g><path d="M29.07 427.22V274.42M29.07 427.22H23.02M29.07 396.66H23.02M29.07 366.10H23.02M29.07 335.54H23.02M29.07 304.98H23.02M29.07 274.42H23.02" stroke="#5a5a5a" stroke-width="1.25" fill="none"/><path d="M36.51 448.20H256.28M36.51 448.20V454.20M109.77 448.20V454.20M183.02 448.20V454.20M256.28 448.20V454.20" stroke="#5a5a5a" stroke-width="1.1" fill="none"/><text transform="translate(11.63 427.22) rotate(-90) scale(1 0.953)" y="3.89" font-size="10.8" text-anchor="middle"><tspan fill="#b8aa88">-</tspan>4</text><text transform="translate(11.63 396.66) rotate(-90) scale(1 0.953)" y="3.89" font-size="10.8" text-anchor="middle"><tspan fill="#b8aa88">-</tspan>2</text><text transform="translate(11.63 366.10) rotate(-90) scale(1 0.953)" y="3.89" font-size="10.8" text-anchor="middle">0</text><text transform="translate(11.63 335.54) rotate(-90) scale(1 0.953)" y="3.89" font-size="10.8" text-anchor="middle">2</text><text transform="translate(11.63 304.98) rotate(-90) scale(1 0.953)" y="3.89" font-size="10.8" text-anchor="middle">4</text><text transform="translate(11.63 274.42) rotate(-90) scale(1 0.953)" y="3.89" font-size="10.8" text-anchor="middle">6</text><text transform="translate(36.51 470.60) scale(0.953 1)" font-size="10.8" text-anchor="middle">0</text><text transform="translate(109.77 470.60) scale(0.953 1)" font-size="10.8" text-anchor="middle">20</text><text transform="translate(183.02 470.60) scale(0.953 1)" font-size="10.8" text-anchor="middle">40</text><text transform="translate(256.28 470.60) scale(0.953 1)" font-size="10.8" text-anchor="middle">60</text><g fill="#f8bfca" stroke="#3e3036" stroke-width="0.85"><circle cx="40.17" cy="364.57" r="3.2"/><circle cx="43.84" cy="338.17" r="3.2"/><circle cx="47.50" cy="338.96" r="3.2"/><circle cx="51.16" cy="324.25" r="3.2"/><circle cx="54.83" cy="312.60" r="3.2"/><circle cx="58.49" cy="326.62" r="3.2"/><circle cx="62.15" cy="312.21" r="3.2"/><circle cx="65.81" cy="328.29" r="3.2"/><circle cx="69.48" cy="304.70" r="3.2"/><circle cx="73.14" cy="313.59" r="3.2"/><circle cx="76.80" cy="306.09" r="3.2"/><circle cx="80.47" cy="307.07" r="3.2"/><circle cx="84.13" cy="311.22" r="3.2"/><circle cx="87.79" cy="289.21" r="3.2"/><circle cx="91.45" cy="307.47" r="3.2"/><circle cx="95.12" cy="317.73" r="3.2"/><circle cx="98.78" cy="324.15" r="3.2"/><circle cx="102.44" cy="314.77" r="3.2"/><circle cx="106.10" cy="307.76" r="3.2"/><circle cx="109.77" cy="311.71" r="3.2"/><circle cx="113.43" cy="328.10" r="3.2"/><circle cx="117.09" cy="326.22" r="3.2"/><circle cx="120.76" cy="301.94" r="3.2"/><circle cx="124.42" cy="319.02" r="3.2"/><circle cx="128.08" cy="285.95" r="3.2"/><circle cx="131.74" cy="290.79" r="3.2"/><circle cx="135.41" cy="273.02" r="3.2"/><circle cx="139.07" cy="283.78" r="3.2"/><circle cx="142.73" cy="275.68" r="3.2"/><circle cx="146.40" cy="257.92" r="3.2"/><circle cx="150.06" cy="271.93" r="3.2"/><circle cx="153.72" cy="283.88" r="3.2"/><circle cx="157.38" cy="289.01" r="3.2"/><circle cx="161.05" cy="288.22" r="3.2"/><circle cx="164.71" cy="282.30" r="3.2"/><circle cx="168.37" cy="289.80" r="3.2"/><circle cx="172.03" cy="294.34" r="3.2"/><circle cx="175.70" cy="281.31" r="3.2"/><circle cx="179.36" cy="319.90" r="3.2"/><circle cx="183.02" cy="325.93" r="3.2"/><circle cx="186.69" cy="330.27" r="3.2"/><circle cx="190.35" cy="337.47" r="3.2"/><circle cx="194.01" cy="311.81" r="3.2"/><circle cx="197.67" cy="313.69" r="3.2"/><circle cx="201.34" cy="317.73" r="3.2"/><circle cx="205.00" cy="308.75" r="3.2"/><circle cx="208.66" cy="296.71" r="3.2"/><circle cx="212.33" cy="329.48" r="3.2"/><circle cx="215.99" cy="345.67" r="3.2"/><circle cx="219.65" cy="347.94" r="3.2"/><circle cx="223.31" cy="316.35" r="3.2"/><circle cx="226.98" cy="333.43" r="3.2"/><circle cx="230.64" cy="326.42" r="3.2"/><circle cx="234.30" cy="339.84" r="3.2"/><circle cx="237.97" cy="332.24" r="3.2"/><circle cx="241.63" cy="346.56" r="3.2"/><circle cx="245.29" cy="355.24" r="3.2"/><circle cx="248.95" cy="357.31" r="3.2"/><circle cx="252.62" cy="391.76" r="3.2"/><circle cx="256.28" cy="386.34" r="3.2"/><circle cx="259.94" cy="407.46" r="3.2"/><circle cx="263.60" cy="403.31" r="3.2"/><circle cx="267.27" cy="400.06" r="3.2"/><circle cx="270.93" cy="405.48" r="3.2"/><circle cx="274.59" cy="421.38" r="3.2"/><circle cx="278.26" cy="412.89" r="3.2"/><circle cx="281.92" cy="372.32" r="3.2"/><circle cx="285.58" cy="391.76" r="3.2"/><circle cx="289.24" cy="387.91" r="3.2"/><circle cx="292.91" cy="399.56" r="3.2"/><circle cx="296.57" cy="411.41" r="3.2"/><circle cx="300.23" cy="396.70" r="3.2"/><circle cx="303.90" cy="407.06" r="3.2"/><circle cx="307.56" cy="430.16" r="3.2"/><circle cx="311.22" cy="440.53" r="3.2"/></g><g fill="#3a1820"><ellipse cx="40.17" cy="364.57" rx="0.75" ry="0.95"/><ellipse cx="43.84" cy="338.17" rx="0.75" ry="0.95"/><ellipse cx="47.50" cy="338.96" rx="0.75" ry="0.95"/><ellipse cx="51.16" cy="324.25" rx="0.75" ry="0.95"/><ellipse cx="54.83" cy="312.60" rx="0.75" ry="0.95"/><ellipse cx="58.49" cy="326.62" rx="0.75" ry="0.95"/><ellipse cx="62.15" cy="312.21" rx="0.75" ry="0.95"/><ellipse cx="65.81" cy="328.29" rx="0.75" ry="0.95"/><ellipse cx="69.48" cy="304.70" rx="0.75" ry="0.95"/><ellipse cx="73.14" cy="313.59" rx="0.75" ry="0.95"/><ellipse cx="76.80" cy="306.09" rx="0.75" ry="0.95"/><ellipse cx="80.47" cy="307.07" rx="0.75" ry="0.95"/><ellipse cx="84.13" cy="311.22" rx="0.75" ry="0.95"/><ellipse cx="87.79" cy="289.21" rx="0.75" ry="0.95"/><ellipse cx="91.45" cy="307.47" rx="0.75" ry="0.95"/><ellipse cx="95.12" cy="317.73" rx="0.75" ry="0.95"/><ellipse cx="98.78" cy="324.15" rx="0.75" ry="0.95"/><ellipse cx="102.44" cy="314.77" rx="0.75" ry="0.95"/><ellipse cx="106.10" cy="307.76" rx="0.75" ry="0.95"/><ellipse cx="109.77" cy="311.71" rx="0.75" ry="0.95"/><ellipse cx="113.43" cy="328.10" rx="0.75" ry="0.95"/><ellipse cx="117.09" cy="326.22" rx="0.75" ry="0.95"/><ellipse cx="120.76" cy="301.94" rx="0.75" ry="0.95"/><ellipse cx="124.42" cy="319.02" rx="0.75" ry="0.95"/><ellipse cx="128.08" cy="285.95" rx="0.75" ry="0.95"/><ellipse cx="131.74" cy="290.79" rx="0.75" ry="0.95"/><ellipse cx="135.41" cy="273.02" rx="0.75" ry="0.95"/><ellipse cx="139.07" cy="283.78" rx="0.75" ry="0.95"/><ellipse cx="142.73" cy="275.68" rx="0.75" ry="0.95"/><ellipse cx="146.40" cy="257.92" rx="0.75" ry="0.95"/><ellipse cx="150.06" cy="271.93" rx="0.75" ry="0.95"/><ellipse cx="153.72" cy="283.88" rx="0.75" ry="0.95"/><ellipse cx="157.38" cy="289.01" rx="0.75" ry="0.95"/><ellipse cx="161.05" cy="288.22" rx="0.75" ry="0.95"/><ellipse cx="164.71" cy="282.30" rx="0.75" ry="0.95"/><ellipse cx="168.37" cy="289.80" rx="0.75" ry="0.95"/><ellipse cx="172.03" cy="294.34" rx="0.75" ry="0.95"/><ellipse cx="175.70" cy="281.31" rx="0.75" ry="0.95"/><ellipse cx="179.36" cy="319.90" rx="0.75" ry="0.95"/><ellipse cx="183.02" cy="325.93" rx="0.75" ry="0.95"/><ellipse cx="186.69" cy="330.27" rx="0.75" ry="0.95"/><ellipse cx="190.35" cy="337.47" rx="0.75" ry="0.95"/><ellipse cx="194.01" cy="311.81" rx="0.75" ry="0.95"/><ellipse cx="197.67" cy="313.69" rx="0.75" ry="0.95"/><ellipse cx="201.34" cy="317.73" rx="0.75" ry="0.95"/><ellipse cx="205.00" cy="308.75" rx="0.75" ry="0.95"/><ellipse cx="208.66" cy="296.71" rx="0.75" ry="0.95"/><ellipse cx="212.33" cy="329.48" rx="0.75" ry="0.95"/><ellipse cx="215.99" cy="345.67" rx="0.75" ry="0.95"/><ellipse cx="219.65" cy="347.94" rx="0.75" ry="0.95"/><ellipse cx="223.31" cy="316.35" rx="0.75" ry="0.95"/><ellipse cx="226.98" cy="333.43" rx="0.75" ry="0.95"/><ellipse cx="230.64" cy="326.42" rx="0.75" ry="0.95"/><ellipse cx="234.30" cy="339.84" rx="0.75" ry="0.95"/><ellipse cx="237.97" cy="332.24" rx="0.75" ry="0.95"/><ellipse cx="241.63" cy="346.56" rx="0.75" ry="0.95"/><ellipse cx="245.29" cy="355.24" rx="0.75" ry="0.95"/><ellipse cx="248.95" cy="357.31" rx="0.75" ry="0.95"/><ellipse cx="252.62" cy="391.76" rx="0.75" ry="0.95"/><ellipse cx="256.28" cy="386.34" rx="0.75" ry="0.95"/><ellipse cx="259.94" cy="407.46" rx="0.75" ry="0.95"/><ellipse cx="263.60" cy="403.31" rx="0.75" ry="0.95"/><ellipse cx="267.27" cy="400.06" rx="0.75" ry="0.95"/><ellipse cx="270.93" cy="405.48" rx="0.75" ry="0.95"/><ellipse cx="274.59" cy="421.38" rx="0.75" ry="0.95"/><ellipse cx="278.26" cy="412.89" rx="0.75" ry="0.95"/><ellipse cx="281.92" cy="372.32" rx="0.75" ry="0.95"/><ellipse cx="285.58" cy="391.76" rx="0.75" ry="0.95"/><ellipse cx="289.24" cy="387.91" rx="0.75" ry="0.95"/><ellipse cx="292.91" cy="399.56" rx="0.75" ry="0.95"/><ellipse cx="296.57" cy="411.41" rx="0.75" ry="0.95"/><ellipse cx="300.23" cy="396.70" rx="0.75" ry="0.95"/><ellipse cx="303.90" cy="407.06" rx="0.75" ry="0.95"/><ellipse cx="307.56" cy="430.16" rx="0.75" ry="0.95"/><ellipse cx="311.22" cy="440.53" rx="0.75" ry="0.95"/></g><g stroke="#111" stroke-width="1.3" stroke-linecap="round" stroke-dasharray="0.1 5.5 4.3 5.5"><line x1="40.33" y1="363.43" x2="43.68" y2="339.30"/><line x1="44.96" y1="338.41" x2="46.38" y2="338.71"/><line x1="47.78" y1="337.84" x2="50.88" y2="325.36"/><line x1="51.51" y1="323.15" x2="54.48" y2="313.70"/><line x1="55.12" y1="313.71" x2="58.20" y2="325.50"/><line x1="58.77" y1="325.50" x2="61.87" y2="313.32"/><line x1="62.41" y1="313.33" x2="65.56" y2="327.17"/><line x1="65.99" y1="327.16" x2="69.30" y2="305.84"/><line x1="69.92" y1="305.77" x2="72.70" y2="312.52"/><line x1="73.64" y1="312.55" x2="76.30" y2="307.12"/><line x1="77.91" y1="306.38" x2="79.35" y2="306.77"/><line x1="81.23" y1="307.93" x2="83.37" y2="310.36"/><line x1="84.32" y1="310.08" x2="87.60" y2="290.34"/><line x1="88.02" y1="290.33" x2="91.23" y2="306.34"/><line x1="91.84" y1="308.55" x2="94.73" y2="316.65"/><line x1="95.69" y1="318.73" x2="98.21" y2="323.15"/><line x1="99.20" y1="323.08" x2="102.02" y2="315.84"/><line x1="102.97" y1="313.75" x2="105.57" y2="308.78"/><line x1="106.89" y1="308.61" x2="108.99" y2="310.87"/><line x1="110.02" y1="312.83" x2="113.18" y2="326.98"/><line x1="114.45" y1="327.57" x2="116.07" y2="326.75"/><line x1="117.26" y1="325.08" x2="120.58" y2="303.08"/><line x1="121.00" y1="303.06" x2="124.18" y2="317.89"/><line x1="124.55" y1="317.87" x2="127.95" y2="287.09"/><line x1="128.78" y1="286.87" x2="131.05" y2="289.87"/><line x1="131.98" y1="289.66" x2="135.17" y2="274.14"/><line x1="135.78" y1="274.11" x2="138.70" y2="282.69"/><line x1="139.54" y1="282.73" x2="142.26" y2="276.73"/><line x1="142.96" y1="274.56" x2="146.16" y2="259.04"/><line x1="146.69" y1="259.03" x2="149.77" y2="270.82"/><line x1="150.40" y1="273.03" x2="153.38" y2="282.78"/><line x1="154.39" y1="284.81" x2="156.72" y2="288.07"/><line x1="158.51" y1="288.77" x2="159.92" y2="288.46"/><line x1="161.65" y1="287.24" x2="164.10" y2="283.27"/><line x1="165.21" y1="283.33" x2="167.87" y2="288.77"/><line x1="169.09" y1="290.69" x2="171.31" y2="293.44"/><line x1="172.35" y1="293.23" x2="175.39" y2="282.42"/><line x1="175.81" y1="282.45" x2="179.25" y2="318.76"/><line x1="179.96" y1="320.89" x2="182.43" y2="324.94"/><line x1="183.76" y1="326.80" x2="185.94" y2="329.39"/><line x1="187.21" y1="331.29" x2="189.83" y2="336.45"/><line x1="190.51" y1="336.34" x2="193.85" y2="312.95"/><line x1="195.04" y1="312.33" x2="196.65" y2="313.16"/><line x1="198.45" y1="314.54" x2="200.57" y2="316.88"/><line x1="201.77" y1="316.67" x2="204.57" y2="309.82"/><line x1="205.33" y1="307.65" x2="208.33" y2="297.81"/><line x1="208.79" y1="297.85" x2="212.20" y2="328.34"/><line x1="212.58" y1="330.60" x2="215.73" y2="344.55"/><line x1="216.97" y1="346.27" x2="218.67" y2="347.33"/><line x1="219.78" y1="346.80" x2="223.18" y2="317.49"/><line x1="223.56" y1="317.48" x2="226.74" y2="332.30"/><line x1="227.51" y1="332.41" x2="230.11" y2="327.44"/><line x1="230.94" y1="327.53" x2="234.00" y2="338.73"/><line x1="234.80" y1="338.81" x2="237.47" y2="333.28"/><line x1="238.25" y1="333.36" x2="241.34" y2="345.44"/><line x1="242.07" y1="347.62" x2="244.84" y2="354.18"/><line x1="246.29" y1="355.81" x2="247.95" y2="356.75"/><line x1="249.08" y1="358.46" x2="252.49" y2="390.62"/><line x1="253.26" y1="390.81" x2="255.64" y2="387.29"/><line x1="256.48" y1="387.47" x2="259.75" y2="406.33"/><line x1="260.70" y1="406.60" x2="262.84" y2="404.17"/><line x1="264.46" y1="402.55" x2="266.41" y2="400.82"/><line x1="267.91" y1="401.01" x2="270.29" y2="404.53"/><line x1="271.19" y1="406.61" x2="274.33" y2="420.26"/><line x1="275.05" y1="420.32" x2="277.80" y2="413.94"/><line x1="278.36" y1="411.74" x2="281.82" y2="373.46"/><line x1="282.13" y1="373.45" x2="285.37" y2="390.63"/><line x1="286.37" y1="390.93" x2="288.45" y2="388.75"/><line x1="289.59" y1="389.01" x2="292.56" y2="398.46"/><line x1="293.25" y1="400.66" x2="296.23" y2="410.31"/><line x1="296.85" y1="410.29" x2="299.95" y2="397.82"/><line x1="300.62" y1="397.78" x2="303.51" y2="405.98"/><line x1="304.08" y1="408.20" x2="307.38" y2="429.03"/><line x1="307.94" y1="431.25" x2="310.84" y2="439.44"/></g><g clip-path="url(#cp3)"><path d="M78.23 246.70L78.82 249.29L79.41 251.88L79.99 254.48L80.56 257.07L81.12 259.66L81.67 262.25L82.22 264.85L82.76 267.44L83.29 270.03L83.82 272.62L84.35 275.22L84.87 277.81L85.38 280.40L85.89 282.99L86.40 285.59L86.90 288.18L87.40 290.77L87.89 293.36L88.39 295.96L88.88 298.55L89.37 301.14L89.86 303.73L90.35 306.33L90.84 308.92L91.33 311.51L91.81 314.10L92.30 316.69L92.79 319.29L93.28 321.88L93.78 324.47L94.27 327.06L94.77 329.66L95.27 332.25L95.78 334.84L96.29 337.43L96.80 340.03L97.32 342.62L97.84 345.21L98.37 347.80L98.90 350.40L99.44 352.99L99.98 355.58L100.54 358.17L101.10 360.77L101.66 363.36L102.24 365.95L102.82 368.54L103.41 371.14L104.01 373.73L104.62 376.32L105.24 378.91L105.87 381.51L106.52 384.10L107.17 386.69L107.83 389.28L108.51 391.87L109.19 394.47L109.89 397.06L110.61 399.65L111.33 402.24L112.07 404.84L112.83 407.43L113.60 410.02L114.38 412.61L115.18 415.21L115.99 417.80L116.82 420.39L117.67 422.98L118.53 425.58L119.41 428.17L120.31 430.76L121.22 433.35L122.16 435.95L123.11 438.54L124.08 441.13L125.07 443.72L126.08 446.32L127.11 448.91L128.16 451.50" stroke="#0000ff" stroke-width="1.5" fill="none"/><path d="M196.15 247.30L195.41 249.88L194.68 252.47L193.97 255.05L193.28 257.64L192.59 260.22L191.92 262.81L191.27 265.39L190.62 267.98L189.99 270.56L189.37 273.15L188.75 275.73L188.15 278.32L187.56 280.90L186.98 283.49L186.41 286.07L185.84 288.66L185.28 291.24L184.74 293.83L184.19 296.41L183.66 299.00L183.13 301.58L182.61 304.17L182.09 306.75L181.57 309.34L181.06 311.92L180.56 314.51L180.06 317.09L179.56 319.67L179.06 322.26L178.57 324.84L178.08 327.43L177.59 330.01L177.10 332.60L176.61 335.18L176.12 337.77L175.63 340.35L175.14 342.94L174.64 345.52L174.15 348.11L173.65 350.69L173.15 353.28L172.65 355.86L172.14 358.45L171.63 361.03L171.12 363.62L170.60 366.20L170.07 368.79L169.54 371.37L169.00 373.96L168.46 376.54L167.90 379.13L167.34 381.71L166.78 384.29L166.20 386.88L165.61 389.46L165.02 392.05L164.41 394.63L163.80 397.22L163.17 399.80L162.53 402.39L161.88 404.97L161.22 407.56L160.54 410.14L159.86 412.73L159.15 415.31L158.44 417.90L157.71 420.48L156.96 423.07L156.20 425.65L155.43 428.24L154.63 430.82L153.82 433.41L153.00 435.99L152.15 438.58L151.29 441.16L150.41 443.75L149.51 446.33L148.59 448.92L147.65 451.50" stroke="#0000ff" stroke-width="1.5" fill="none"/><path d="M231.54 247.00L232.30 249.59L233.05 252.17L233.80 254.76L234.54 257.35L235.27 259.94L235.99 262.52L236.70 265.11L237.41 267.70L238.11 270.29L238.80 272.87L239.48 275.46L240.16 278.05L240.83 280.64L241.49 283.22L242.15 285.81L242.80 288.40L243.44 290.98L244.08 293.57L244.71 296.16L245.33 298.75L245.95 301.33L246.57 303.92L247.17 306.51L247.78 309.10L248.38 311.68L248.97 314.27L249.56 316.86L250.14 319.45L250.72 322.03L251.29 324.62L251.86 327.21L252.43 329.79L252.99 332.38L253.55 334.97L254.11 337.56L254.66 340.14L255.21 342.73L255.75 345.32L256.30 347.91L256.84 350.49L257.37 353.08L257.91 355.67L258.44 358.26L258.97 360.84L259.50 363.43L260.02 366.02L260.55 368.61L261.07 371.19L261.59 373.78L262.11 376.37L262.63 378.95L263.15 381.54L263.67 384.13L264.18 386.72L264.70 389.30L265.22 391.89L265.73 394.48L266.25 397.07L266.76 399.65L267.28 402.24L267.80 404.83L268.31 407.42L268.83 410.00L269.35 412.59L269.87 415.18L270.39 417.76L270.91 420.35L271.44 422.94L271.96 425.53L272.49 428.11L273.02 430.70L273.55 433.29L274.09 435.88L274.62 438.46L275.16 441.05L275.70 443.64L276.25 446.23L276.79 448.81L277.35 451.40" stroke="#0000ff" stroke-width="1.5" fill="none"/><path d="M76.95 246.70L77.54 249.29L78.13 251.88L78.71 254.48L79.28 257.07L79.84 259.66L80.39 262.25L80.94 264.85L81.48 267.44L82.02 270.03L82.54 272.62L83.07 275.22L83.59 277.81L84.10 280.40L84.61 282.99L85.12 285.59L85.62 288.18L86.12 290.77L86.61 293.36L87.11 295.96L87.60 298.55L88.09 301.14L88.58 303.73L89.07 306.33L89.56 308.92L90.05 311.51L90.53 314.10L91.02 316.69L91.51 319.29L92.01 321.88L92.50 324.47L93.00 327.06L93.49 329.66L93.99 332.25L94.50 334.84L95.01 337.43L95.52 340.03L96.04 342.62L96.56 345.21L97.09 347.80L97.62 350.40L98.16 352.99L98.70 355.58L99.26 358.17L99.82 360.77L100.38 363.36L100.96 365.95L101.54 368.54L102.13 371.14L102.73 373.73L103.34 376.32L103.96 378.91L104.60 381.51L105.24 384.10L105.89 386.69L106.55 389.28L107.23 391.87L107.92 394.47L108.62 397.06L109.33 399.65L110.05 402.24L110.79 404.84L111.55 407.43L112.32 410.02L113.10 412.61L113.90 415.21L114.71 417.80L115.54 420.39L116.39 422.98L117.25 425.58L118.13 428.17L119.03 430.76L119.94 433.35L120.88 435.95L121.83 438.54L122.80 441.13L123.79 443.72L124.80 446.32L125.83 448.91L126.88 451.50M194.87 247.30L194.13 249.88L193.40 252.47L192.69 255.05L192.00 257.64L191.32 260.22L190.65 262.81L189.99 265.39L189.34 267.98L188.71 270.56L188.09 273.15L187.48 275.73L186.87 278.32L186.28 280.90L185.70 283.49L185.13 286.07L184.56 288.66L184.01 291.24L183.46 293.83L182.91 296.41L182.38 299.00L181.85 301.58L181.33 304.17L180.81 306.75L180.29 309.34L179.79 311.92L179.28 314.51L178.78 317.09L178.28 319.67L177.78 322.26L177.29 324.84L176.80 327.43L176.31 330.01L175.82 332.60L175.33 335.18L174.84 337.77L174.35 340.35L173.86 342.94L173.37 345.52L172.87 348.11L172.37 350.69L171.87 353.28L171.37 355.86L170.87 358.45L170.35 361.03L169.84 363.62L169.32 366.20L168.79 368.79L168.26 371.37L167.72 373.96L167.18 376.54L166.63 379.13L166.07 381.71L165.50 384.29L164.92 386.88L164.33 389.46L163.74 392.05L163.13 394.63L162.52 397.22L161.89 399.80L161.25 402.39L160.60 404.97L159.94 407.56L159.26 410.14L158.58 412.73L157.87 415.31L157.16 417.90L156.43 420.48L155.68 423.07L154.92 425.65L154.15 428.24L153.35 430.82L152.54 433.41L151.72 435.99L150.87 438.58L150.01 441.16L149.13 443.75L148.23 446.33L147.31 448.92L146.37 451.50M230.26 247.00L231.02 249.59L231.78 252.17L232.52 254.76L233.26 257.35L233.99 259.94L234.71 262.52L235.42 265.11L236.13 267.70L236.83 270.29L237.52 272.87L238.20 275.46L238.88 278.05L239.55 280.64L240.21 283.22L240.87 285.81L241.52 288.40L242.16 290.98L242.80 293.57L243.43 296.16L244.05 298.75L244.67 301.33L245.29 303.92L245.89 306.51L246.50 309.10L247.10 311.68L247.69 314.27L248.28 316.86L248.86 319.45L249.44 322.03L250.01 324.62L250.58 327.21L251.15 329.79L251.71 332.38L252.27 334.97L252.83 337.56L253.38 340.14L253.93 342.73L254.47 345.32L255.02 347.91L255.56 350.49L256.09 353.08L256.63 355.67L257.16 358.26L257.69 360.84L258.22 363.43L258.74 366.02L259.27 368.61L259.79 371.19L260.31 373.78L260.83 376.37L261.35 378.95L261.87 381.54L262.39 384.13L262.90 386.72L263.42 389.30L263.94 391.89L264.45 394.48L264.97 397.07L265.48 399.65L266.00 402.24L266.52 404.83L267.03 407.42L267.55 410.00L268.07 412.59L268.59 415.18L269.11 417.76L269.63 420.35L270.16 422.94L270.68 425.53L271.21 428.11L271.74 430.70L272.27 433.29L272.81 435.88L273.34 438.46L273.88 441.05L274.42 443.64L274.97 446.23L275.52 448.81L276.07 451.40" stroke="#ff0000" stroke-width="1.4" fill="none" stroke-dasharray="1.4 4.0" stroke-dashoffset="0.0"/><path d="M79.51 246.70L80.10 249.29L80.69 251.88L81.26 254.48L81.83 257.07L82.40 259.66L82.95 262.25L83.50 264.85L84.04 267.44L84.57 270.03L85.10 272.62L85.63 275.22L86.15 277.81L86.66 280.40L87.17 282.99L87.67 285.59L88.18 288.18L88.68 290.77L89.17 293.36L89.67 295.96L90.16 298.55L90.65 301.14L91.14 303.73L91.63 306.33L92.12 308.92L92.60 311.51L93.09 314.10L93.58 316.69L94.07 319.29L94.56 321.88L95.06 324.47L95.55 327.06L96.05 329.66L96.55 332.25L97.06 334.84L97.57 337.43L98.08 340.03L98.60 342.62L99.12 345.21L99.65 347.80L100.18 350.40L100.72 352.99L101.26 355.58L101.81 358.17L102.37 360.77L102.94 363.36L103.52 365.95L104.10 368.54L104.69 371.14L105.29 373.73L105.90 376.32L106.52 378.91L107.15 381.51L107.79 384.10L108.45 386.69L109.11 389.28L109.79 391.87L110.47 394.47L111.17 397.06L111.89 399.65L112.61 402.24L113.35 404.84L114.11 407.43L114.87 410.02L115.66 412.61L116.46 415.21L117.27 417.80L118.10 420.39L118.95 422.98L119.81 425.58L120.69 428.17L121.59 430.76L122.50 433.35L123.44 435.95L124.39 438.54L125.36 441.13L126.35 443.72L127.36 446.32L128.39 448.91L129.44 451.50M197.43 247.30L196.69 249.88L195.96 252.47L195.25 255.05L194.56 257.64L193.87 260.22L193.20 262.81L192.55 265.39L191.90 267.98L191.27 270.56L190.65 273.15L190.03 275.73L189.43 278.32L188.84 280.90L188.26 283.49L187.69 286.07L187.12 288.66L186.56 291.24L186.01 293.83L185.47 296.41L184.94 299.00L184.41 301.58L183.88 304.17L183.37 306.75L182.85 309.34L182.34 311.92L181.84 314.51L181.34 317.09L180.84 319.67L180.34 322.26L179.85 324.84L179.36 327.43L178.87 330.01L178.38 332.60L177.89 335.18L177.40 337.77L176.91 340.35L176.42 342.94L175.92 345.52L175.43 348.11L174.93 350.69L174.43 353.28L173.93 355.86L173.42 358.45L172.91 361.03L172.40 363.62L171.88 366.20L171.35 368.79L170.82 371.37L170.28 373.96L169.74 376.54L169.18 379.13L168.62 381.71L168.06 384.29L167.48 386.88L166.89 389.46L166.30 392.05L165.69 394.63L165.08 397.22L164.45 399.80L163.81 402.39L163.16 404.97L162.50 407.56L161.82 410.14L161.13 412.73L160.43 415.31L159.72 417.90L158.99 420.48L158.24 423.07L157.48 425.65L156.70 428.24L155.91 430.82L155.10 433.41L154.28 435.99L153.43 438.58L152.57 441.16L151.69 443.75L150.79 446.33L149.87 448.92L148.93 451.50M232.82 247.00L233.58 249.59L234.33 252.17L235.08 254.76L235.82 257.35L236.55 259.94L237.27 262.52L237.98 265.11L238.69 267.70L239.39 270.29L240.08 272.87L240.76 275.46L241.44 278.05L242.11 280.64L242.77 283.22L243.43 285.81L244.08 288.40L244.72 290.98L245.36 293.57L245.99 296.16L246.61 298.75L247.23 301.33L247.84 303.92L248.45 306.51L249.06 309.10L249.65 311.68L250.25 314.27L250.84 316.86L251.42 319.45L252.00 322.03L252.57 324.62L253.14 327.21L253.71 329.79L254.27 332.38L254.83 334.97L255.39 337.56L255.94 340.14L256.49 342.73L257.03 345.32L257.57 347.91L258.11 350.49L258.65 353.08L259.19 355.67L259.72 358.26L260.25 360.84L260.78 363.43L261.30 366.02L261.83 368.61L262.35 371.19L262.87 373.78L263.39 376.37L263.91 378.95L264.43 381.54L264.95 384.13L265.46 386.72L265.98 389.30L266.49 391.89L267.01 394.48L267.53 397.07L268.04 399.65L268.56 402.24L269.07 404.83L269.59 407.42L270.11 410.00L270.63 412.59L271.15 415.18L271.67 417.76L272.19 420.35L272.72 422.94L273.24 425.53L273.77 428.11L274.30 430.70L274.83 433.29L275.36 435.88L275.90 438.46L276.44 441.05L276.98 443.64L277.53 446.23L278.07 448.81L278.62 451.40" stroke="#ff0000" stroke-width="1.4" fill="none" stroke-dasharray="1.4 4.0" stroke-dashoffset="2.7"/></g><text transform="translate(246.98 282.20) scale(0.953 1)" font-size="12.6" text-anchor="start" stroke="#2a2a2a" stroke-width="0.25">R</text><text transform="translate(255.70 275.60) scale(0.953 1)" font-size="8.568" text-anchor="start" stroke="#2a2a2a" stroke-width="0.25">2</text><text transform="translate(265.35 282.20) scale(0.744 1)" font-size="12.6" text-anchor="middle" stroke="#2a2a2a" stroke-width="0.25">=</text><text transform="translate(295.35 282.20) scale(0.953 1)" font-size="12.6" text-anchor="end" stroke="#2a2a2a" stroke-width="0.25">0.09</text></g><g><path d="M344.42 426.04V269.44M344.42 426.04H338.37M344.42 394.72H338.37M344.42 363.40H338.37M344.42 332.08H338.37M344.42 300.76H338.37M344.42 269.44H338.37" stroke="#5a5a5a" stroke-width="1.25" fill="none"/><path d="M351.63 447.00H571.40M351.63 447.00V453.00M424.88 447.00V453.00M498.14 447.00V453.00M571.40 447.00V453.00" stroke="#5a5a5a" stroke-width="1.1" fill="none"/><text transform="translate(326.98 426.04) rotate(-90) scale(1 0.953)" y="3.89" font-size="10.8" text-anchor="middle"><tspan fill="#b8aa88">-</tspan>4</text><text transform="translate(326.98 394.72) rotate(-90) scale(1 0.953)" y="3.89" font-size="10.8" text-anchor="middle"><tspan fill="#b8aa88">-</tspan>2</text><text transform="translate(326.98 363.40) rotate(-90) scale(1 0.953)" y="3.89" font-size="10.8" text-anchor="middle">0</text><text transform="translate(326.98 332.08) rotate(-90) scale(1 0.953)" y="3.89" font-size="10.8" text-anchor="middle">2</text><text transform="translate(326.98 300.76) rotate(-90) scale(1 0.953)" y="3.89" font-size="10.8" text-anchor="middle">4</text><text transform="translate(326.98 269.44) rotate(-90) scale(1 0.953)" y="3.89" font-size="10.8" text-anchor="middle">6</text><text transform="translate(351.63 470.10) scale(0.953 1)" font-size="10.8" text-anchor="middle">0</text><text transform="translate(424.88 470.10) scale(0.953 1)" font-size="10.8" text-anchor="middle">20</text><text transform="translate(498.14 470.10) scale(0.953 1)" font-size="10.8" text-anchor="middle">40</text><text transform="translate(571.40 470.10) scale(0.953 1)" font-size="10.8" text-anchor="middle">60</text><g fill="#f8bfca" stroke="#3e3036" stroke-width="0.85"><circle cx="355.29" cy="361.83" r="3.2"/><circle cx="358.95" cy="334.77" r="3.2"/><circle cx="362.62" cy="335.58" r="3.2"/><circle cx="366.28" cy="320.51" r="3.2"/><circle cx="369.94" cy="308.57" r="3.2"/><circle cx="373.60" cy="322.93" r="3.2"/><circle cx="377.27" cy="308.17" r="3.2"/><circle cx="380.93" cy="324.65" r="3.2"/><circle cx="384.59" cy="300.48" r="3.2"/><circle cx="388.26" cy="309.58" r="3.2"/><circle cx="391.92" cy="301.89" r="3.2"/><circle cx="395.58" cy="302.90" r="3.2"/><circle cx="399.24" cy="307.15" r="3.2"/><circle cx="402.91" cy="284.59" r="3.2"/><circle cx="406.57" cy="303.31" r="3.2"/><circle cx="410.23" cy="313.83" r="3.2"/><circle cx="413.90" cy="320.41" r="3.2"/><circle cx="417.56" cy="310.80" r="3.2"/><circle cx="421.22" cy="303.61" r="3.2"/><circle cx="424.88" cy="307.66" r="3.2"/><circle cx="428.55" cy="324.45" r="3.2"/><circle cx="432.21" cy="322.53" r="3.2"/><circle cx="435.87" cy="297.64" r="3.2"/><circle cx="439.53" cy="315.15" r="3.2"/><circle cx="443.20" cy="281.26" r="3.2"/><circle cx="446.86" cy="286.21" r="3.2"/><circle cx="450.52" cy="268.00" r="3.2"/><circle cx="454.19" cy="279.03" r="3.2"/><circle cx="457.85" cy="270.73" r="3.2"/><circle cx="461.51" cy="252.53" r="3.2"/><circle cx="465.17" cy="266.89" r="3.2"/><circle cx="468.84" cy="279.13" r="3.2"/><circle cx="472.50" cy="284.39" r="3.2"/><circle cx="476.16" cy="283.58" r="3.2"/><circle cx="479.83" cy="277.51" r="3.2"/><circle cx="483.49" cy="285.20" r="3.2"/><circle cx="487.15" cy="289.85" r="3.2"/><circle cx="490.81" cy="276.50" r="3.2"/><circle cx="494.48" cy="316.06" r="3.2"/><circle cx="498.14" cy="322.23" r="3.2"/><circle cx="501.80" cy="326.68" r="3.2"/><circle cx="505.47" cy="334.06" r="3.2"/><circle cx="509.13" cy="307.76" r="3.2"/><circle cx="512.79" cy="309.68" r="3.2"/><circle cx="516.45" cy="313.83" r="3.2"/><circle cx="520.12" cy="304.62" r="3.2"/><circle cx="523.78" cy="292.28" r="3.2"/><circle cx="527.44" cy="325.87" r="3.2"/><circle cx="531.10" cy="342.46" r="3.2"/><circle cx="534.77" cy="344.79" r="3.2"/><circle cx="538.43" cy="312.41" r="3.2"/><circle cx="542.09" cy="329.92" r="3.2"/><circle cx="545.76" cy="322.73" r="3.2"/><circle cx="549.42" cy="336.49" r="3.2"/><circle cx="553.08" cy="328.70" r="3.2"/><circle cx="556.74" cy="343.37" r="3.2"/><circle cx="560.41" cy="352.27" r="3.2"/><circle cx="564.07" cy="354.40" r="3.2"/><circle cx="567.73" cy="389.70" r="3.2"/><circle cx="571.40" cy="384.14" r="3.2"/><circle cx="575.06" cy="405.79" r="3.2"/><circle cx="578.72" cy="401.54" r="3.2"/><circle cx="582.38" cy="398.20" r="3.2"/><circle cx="586.05" cy="403.76" r="3.2"/><circle cx="589.71" cy="420.05" r="3.2"/><circle cx="593.37" cy="411.35" r="3.2"/><circle cx="597.03" cy="369.77" r="3.2"/><circle cx="600.70" cy="389.70" r="3.2"/><circle cx="604.36" cy="385.76" r="3.2"/><circle cx="608.02" cy="397.69" r="3.2"/><circle cx="611.69" cy="409.83" r="3.2"/><circle cx="615.35" cy="394.76" r="3.2"/><circle cx="619.01" cy="405.38" r="3.2"/><circle cx="622.67" cy="429.05" r="3.2"/><circle cx="626.34" cy="439.68" r="3.2"/></g><g fill="#3a1820"><ellipse cx="355.29" cy="361.83" rx="0.75" ry="0.95"/><ellipse cx="358.95" cy="334.77" rx="0.75" ry="0.95"/><ellipse cx="362.62" cy="335.58" rx="0.75" ry="0.95"/><ellipse cx="366.28" cy="320.51" rx="0.75" ry="0.95"/><ellipse cx="369.94" cy="308.57" rx="0.75" ry="0.95"/><ellipse cx="373.60" cy="322.93" rx="0.75" ry="0.95"/><ellipse cx="377.27" cy="308.17" rx="0.75" ry="0.95"/><ellipse cx="380.93" cy="324.65" rx="0.75" ry="0.95"/><ellipse cx="384.59" cy="300.48" rx="0.75" ry="0.95"/><ellipse cx="388.26" cy="309.58" rx="0.75" ry="0.95"/><ellipse cx="391.92" cy="301.89" rx="0.75" ry="0.95"/><ellipse cx="395.58" cy="302.90" rx="0.75" ry="0.95"/><ellipse cx="399.24" cy="307.15" rx="0.75" ry="0.95"/><ellipse cx="402.91" cy="284.59" rx="0.75" ry="0.95"/><ellipse cx="406.57" cy="303.31" rx="0.75" ry="0.95"/><ellipse cx="410.23" cy="313.83" rx="0.75" ry="0.95"/><ellipse cx="413.90" cy="320.41" rx="0.75" ry="0.95"/><ellipse cx="417.56" cy="310.80" rx="0.75" ry="0.95"/><ellipse cx="421.22" cy="303.61" rx="0.75" ry="0.95"/><ellipse cx="424.88" cy="307.66" rx="0.75" ry="0.95"/><ellipse cx="428.55" cy="324.45" rx="0.75" ry="0.95"/><ellipse cx="432.21" cy="322.53" rx="0.75" ry="0.95"/><ellipse cx="435.87" cy="297.64" rx="0.75" ry="0.95"/><ellipse cx="439.53" cy="315.15" rx="0.75" ry="0.95"/><ellipse cx="443.20" cy="281.26" rx="0.75" ry="0.95"/><ellipse cx="446.86" cy="286.21" rx="0.75" ry="0.95"/><ellipse cx="450.52" cy="268.00" rx="0.75" ry="0.95"/><ellipse cx="454.19" cy="279.03" rx="0.75" ry="0.95"/><ellipse cx="457.85" cy="270.73" rx="0.75" ry="0.95"/><ellipse cx="461.51" cy="252.53" rx="0.75" ry="0.95"/><ellipse cx="465.17" cy="266.89" rx="0.75" ry="0.95"/><ellipse cx="468.84" cy="279.13" rx="0.75" ry="0.95"/><ellipse cx="472.50" cy="284.39" rx="0.75" ry="0.95"/><ellipse cx="476.16" cy="283.58" rx="0.75" ry="0.95"/><ellipse cx="479.83" cy="277.51" rx="0.75" ry="0.95"/><ellipse cx="483.49" cy="285.20" rx="0.75" ry="0.95"/><ellipse cx="487.15" cy="289.85" rx="0.75" ry="0.95"/><ellipse cx="490.81" cy="276.50" rx="0.75" ry="0.95"/><ellipse cx="494.48" cy="316.06" rx="0.75" ry="0.95"/><ellipse cx="498.14" cy="322.23" rx="0.75" ry="0.95"/><ellipse cx="501.80" cy="326.68" rx="0.75" ry="0.95"/><ellipse cx="505.47" cy="334.06" rx="0.75" ry="0.95"/><ellipse cx="509.13" cy="307.76" rx="0.75" ry="0.95"/><ellipse cx="512.79" cy="309.68" rx="0.75" ry="0.95"/><ellipse cx="516.45" cy="313.83" rx="0.75" ry="0.95"/><ellipse cx="520.12" cy="304.62" rx="0.75" ry="0.95"/><ellipse cx="523.78" cy="292.28" rx="0.75" ry="0.95"/><ellipse cx="527.44" cy="325.87" rx="0.75" ry="0.95"/><ellipse cx="531.10" cy="342.46" rx="0.75" ry="0.95"/><ellipse cx="534.77" cy="344.79" rx="0.75" ry="0.95"/><ellipse cx="538.43" cy="312.41" rx="0.75" ry="0.95"/><ellipse cx="542.09" cy="329.92" rx="0.75" ry="0.95"/><ellipse cx="545.76" cy="322.73" rx="0.75" ry="0.95"/><ellipse cx="549.42" cy="336.49" rx="0.75" ry="0.95"/><ellipse cx="553.08" cy="328.70" rx="0.75" ry="0.95"/><ellipse cx="556.74" cy="343.37" rx="0.75" ry="0.95"/><ellipse cx="560.41" cy="352.27" rx="0.75" ry="0.95"/><ellipse cx="564.07" cy="354.40" rx="0.75" ry="0.95"/><ellipse cx="567.73" cy="389.70" rx="0.75" ry="0.95"/><ellipse cx="571.40" cy="384.14" rx="0.75" ry="0.95"/><ellipse cx="575.06" cy="405.79" rx="0.75" ry="0.95"/><ellipse cx="578.72" cy="401.54" rx="0.75" ry="0.95"/><ellipse cx="582.38" cy="398.20" rx="0.75" ry="0.95"/><ellipse cx="586.05" cy="403.76" rx="0.75" ry="0.95"/><ellipse cx="589.71" cy="420.05" rx="0.75" ry="0.95"/><ellipse cx="593.37" cy="411.35" rx="0.75" ry="0.95"/><ellipse cx="597.03" cy="369.77" rx="0.75" ry="0.95"/><ellipse cx="600.70" cy="389.70" rx="0.75" ry="0.95"/><ellipse cx="604.36" cy="385.76" rx="0.75" ry="0.95"/><ellipse cx="608.02" cy="397.69" rx="0.75" ry="0.95"/><ellipse cx="611.69" cy="409.83" rx="0.75" ry="0.95"/><ellipse cx="615.35" cy="394.76" rx="0.75" ry="0.95"/><ellipse cx="619.01" cy="405.38" rx="0.75" ry="0.95"/><ellipse cx="622.67" cy="429.05" rx="0.75" ry="0.95"/><ellipse cx="626.34" cy="439.68" rx="0.75" ry="0.95"/></g><g stroke="#111" stroke-width="1.3" stroke-linecap="round" stroke-dasharray="0.1 5.5 4.3 5.5"><line x1="355.44" y1="360.69" x2="358.80" y2="335.91"/><line x1="360.08" y1="335.02" x2="361.49" y2="335.33"/><line x1="362.89" y1="334.46" x2="366.01" y2="321.62"/><line x1="366.62" y1="319.41" x2="369.60" y2="309.67"/><line x1="370.23" y1="309.68" x2="373.32" y2="321.82"/><line x1="373.88" y1="321.82" x2="376.99" y2="309.28"/><line x1="377.52" y1="309.29" x2="380.68" y2="323.53"/><line x1="381.10" y1="323.52" x2="384.42" y2="301.61"/><line x1="385.02" y1="301.54" x2="387.83" y2="308.51"/><line x1="388.75" y1="308.54" x2="391.42" y2="302.93"/><line x1="393.03" y1="302.20" x2="394.47" y2="302.60"/><line x1="396.33" y1="303.78" x2="398.49" y2="306.28"/><line x1="399.43" y1="306.02" x2="402.72" y2="285.73"/><line x1="403.13" y1="285.72" x2="406.35" y2="302.18"/><line x1="406.95" y1="304.40" x2="409.85" y2="312.74"/><line x1="410.79" y1="314.83" x2="413.34" y2="319.40"/><line x1="414.30" y1="319.33" x2="417.15" y2="311.87"/><line x1="418.08" y1="309.77" x2="420.70" y2="304.64"/><line x1="421.99" y1="304.47" x2="424.11" y2="306.81"/><line x1="425.13" y1="308.78" x2="428.30" y2="323.33"/><line x1="429.56" y1="323.92" x2="431.19" y2="323.06"/><line x1="432.38" y1="321.39" x2="435.70" y2="298.78"/><line x1="436.11" y1="298.77" x2="439.30" y2="314.02"/><line x1="439.66" y1="314.00" x2="443.07" y2="282.40"/><line x1="443.88" y1="282.18" x2="446.18" y2="285.29"/><line x1="447.09" y1="285.09" x2="450.30" y2="269.13"/><line x1="450.89" y1="269.09" x2="453.82" y2="277.94"/><line x1="454.65" y1="277.98" x2="457.38" y2="271.79"/><line x1="458.08" y1="269.61" x2="461.28" y2="253.65"/><line x1="461.80" y1="253.64" x2="464.89" y2="265.78"/><line x1="465.50" y1="267.99" x2="468.51" y2="278.03"/><line x1="469.49" y1="280.08" x2="471.84" y2="283.45"/><line x1="473.62" y1="284.14" x2="475.04" y2="283.83"/><line x1="476.76" y1="282.60" x2="479.23" y2="278.50"/><line x1="480.32" y1="278.55" x2="482.99" y2="284.16"/><line x1="484.20" y1="286.10" x2="486.44" y2="288.95"/><line x1="487.46" y1="288.75" x2="490.51" y2="277.61"/><line x1="490.92" y1="277.65" x2="494.37" y2="314.91"/><line x1="495.06" y1="317.04" x2="497.55" y2="321.24"/><line x1="498.87" y1="323.11" x2="501.07" y2="325.79"/><line x1="502.31" y1="327.71" x2="504.95" y2="333.03"/><line x1="505.62" y1="332.92" x2="508.97" y2="308.90"/><line x1="510.15" y1="308.29" x2="511.77" y2="309.15"/><line x1="513.55" y1="310.54" x2="515.69" y2="312.97"/><line x1="516.88" y1="312.76" x2="519.69" y2="305.69"/><line x1="520.44" y1="303.52" x2="523.45" y2="293.39"/><line x1="523.90" y1="293.43" x2="527.32" y2="324.73"/><line x1="527.69" y1="326.99" x2="530.86" y2="341.34"/><line x1="532.08" y1="343.08" x2="533.80" y2="344.17"/><line x1="534.90" y1="343.64" x2="538.30" y2="313.56"/><line x1="538.67" y1="313.54" x2="541.86" y2="328.79"/><line x1="542.62" y1="328.89" x2="545.23" y2="323.76"/><line x1="546.05" y1="323.84" x2="549.12" y2="335.38"/><line x1="549.91" y1="335.45" x2="552.59" y2="329.74"/><line x1="553.36" y1="329.82" x2="556.47" y2="342.25"/><line x1="557.18" y1="344.43" x2="559.97" y2="351.21"/><line x1="561.40" y1="352.85" x2="563.07" y2="353.82"/><line x1="564.19" y1="355.54" x2="567.61" y2="388.56"/><line x1="568.36" y1="388.74" x2="570.76" y2="385.10"/><line x1="571.59" y1="385.27" x2="574.87" y2="404.65"/><line x1="575.81" y1="404.92" x2="577.97" y2="402.41"/><line x1="579.57" y1="400.76" x2="581.53" y2="398.97"/><line x1="583.02" y1="399.16" x2="585.41" y2="402.80"/><line x1="586.30" y1="404.89" x2="589.46" y2="418.93"/><line x1="590.16" y1="418.99" x2="592.93" y2="412.41"/><line x1="593.47" y1="410.21" x2="596.93" y2="370.92"/><line x1="597.24" y1="370.90" x2="600.49" y2="388.57"/><line x1="601.48" y1="388.86" x2="603.58" y2="386.60"/><line x1="604.70" y1="386.86" x2="607.69" y2="396.59"/><line x1="608.36" y1="398.80" x2="611.35" y2="408.73"/><line x1="611.96" y1="408.72" x2="615.08" y2="395.88"/><line x1="615.72" y1="395.85" x2="618.64" y2="404.30"/><line x1="619.19" y1="406.52" x2="622.50" y2="427.92"/><line x1="623.05" y1="430.14" x2="625.96" y2="438.59"/></g><g clip-path="url(#cp4)"><path d="M355.29 330.31L357.00 329.16L358.70 328.10L360.40 327.13L362.11 326.24L363.81 325.40L365.52 324.61L367.22 323.87L368.93 323.16L370.63 322.47L372.34 321.81L374.04 321.16L375.75 320.51L377.45 319.87L379.16 319.23L380.86 318.58L382.57 317.92L384.27 317.25L385.98 316.57L387.68 315.87L389.38 315.16L391.09 314.42L392.79 313.67L394.50 312.89L396.20 312.10L397.91 311.29L399.61 310.45L401.32 309.60L403.02 308.74L404.73 307.85L406.43 306.95L408.14 306.04L409.84 305.12L411.55 304.18L413.25 303.24L414.96 302.30L416.66 301.35L418.36 300.39L420.07 299.44L421.77 298.50L423.48 297.56L425.18 296.63L426.89 295.71L428.59 294.80L430.30 293.91L432.00 293.04L433.71 292.19L435.41 291.37L437.12 290.57L438.82 289.80L440.53 289.06L442.23 288.35L443.93 287.68L445.64 287.05L447.34 286.46L449.05 285.91L450.75 285.41L452.46 284.95L454.16 284.54L455.87 284.18L457.57 283.87L459.28 283.61L460.98 283.41L462.69 283.26L464.39 283.17L466.10 283.13L467.80 283.16L469.51 283.24L471.21 283.39L472.91 283.59L474.62 283.86L476.32 284.18L478.03 284.57L479.73 285.02L481.44 285.54L483.14 286.11L484.85 286.75L486.55 287.45L488.26 288.21L489.96 289.03L491.67 289.91L493.37 290.86L495.08 291.86L496.78 292.91L498.49 294.03L500.19 295.20L501.89 296.43L503.60 297.71L505.30 299.04L507.01 300.42L508.71 301.86L510.42 303.34L512.12 304.86L513.83 306.44L515.53 308.05L517.24 309.71L518.94 311.41L520.65 313.14L522.35 314.91L524.06 316.72L525.76 318.55L527.46 320.42L529.17 322.32L530.87 324.24L532.58 326.18L534.28 328.15L535.99 330.13L537.69 332.14L539.40 334.15L541.10 336.19L542.81 338.23L544.51 340.28L546.22 342.34L547.92 344.40L549.63 346.46L551.33 348.53L553.04 350.59L554.74 352.64L556.44 354.69L558.15 356.74L559.85 358.77L561.56 360.78L563.26 362.78L564.97 364.77L566.67 366.73L568.38 368.68L570.08 370.60L571.79 372.49L573.49 374.36L575.20 376.19L576.90 378.00L578.61 379.77L580.31 381.50L582.02 383.20L583.72 384.85L585.42 386.47L587.13 388.04L588.83 389.56L590.54 391.03L592.24 392.46L593.95 393.83L595.65 395.14L597.36 396.40L599.06 397.60L600.77 398.73L602.47 399.80L604.18 400.81L605.88 401.74L607.59 402.60L609.29 403.39L610.99 404.10L612.70 404.73L614.40 405.27L616.11 405.72L617.81 406.09L619.52 406.36L621.22 406.53L622.93 406.60L624.63 406.56L626.34 406.41" stroke="#0000ff" stroke-width="1.5" fill="none"/><path d="M355.29 325.61L357.00 324.46L358.70 323.40L360.40 322.43L362.11 321.54L363.81 320.70L365.52 319.91L367.22 319.17L368.93 318.46L370.63 317.77L372.34 317.11L374.04 316.46L375.75 315.81L377.45 315.17L379.16 314.53L380.86 313.88L382.57 313.22L384.27 312.55L385.98 311.87L387.68 311.17L389.38 310.46L391.09 309.72L392.79 308.97L394.50 308.19L396.20 307.40L397.91 306.59L399.61 305.75L401.32 304.90L403.02 304.04L404.73 303.15L406.43 302.25L408.14 301.34L409.84 300.42L411.55 299.48L413.25 298.54L414.96 297.60L416.66 296.65L418.36 295.69L420.07 294.74L421.77 293.80L423.48 292.86L425.18 291.93L426.89 291.01L428.59 290.10L430.30 289.21L432.00 288.34L433.71 287.49L435.41 286.67L437.12 285.87L438.82 285.10L440.53 284.36L442.23 283.65L443.93 282.98L445.64 282.35L447.34 281.76L449.05 281.21L450.75 280.71L452.46 280.25L454.16 279.84L455.87 279.48L457.57 279.17L459.28 278.91L460.98 278.71L462.69 278.56L464.39 278.47L466.10 278.43L467.80 278.46L469.51 278.54L471.21 278.69L472.91 278.89L474.62 279.16L476.32 279.48L478.03 279.87L479.73 280.32L481.44 280.84L483.14 281.41L484.85 282.05L486.55 282.75L488.26 283.51L489.96 284.33L491.67 285.21L493.37 286.16L495.08 287.16L496.78 288.21L498.49 289.33L500.19 290.50L501.89 291.73L503.60 293.01L505.30 294.34L507.01 295.72L508.71 297.16L510.42 298.64L512.12 300.16L513.83 301.74L515.53 303.35L517.24 305.01L518.94 306.71L520.65 308.44L522.35 310.21L524.06 312.02L525.76 313.85L527.46 315.72L529.17 317.62L530.87 319.54L532.58 321.48L534.28 323.45L535.99 325.43L537.69 327.44L539.40 329.45L541.10 331.49L542.81 333.53L544.51 335.58L546.22 337.64L547.92 339.70L549.63 341.76L551.33 343.83L553.04 345.89L554.74 347.94L556.44 349.99L558.15 352.04L559.85 354.07L561.56 356.08L563.26 358.08L564.97 360.07L566.67 362.03L568.38 363.98L570.08 365.90L571.79 367.79L573.49 369.66L575.20 371.49L576.90 373.30L578.61 375.07L580.31 376.80L582.02 378.50L583.72 380.15L585.42 381.77L587.13 383.34L588.83 384.86L590.54 386.33L592.24 387.76L593.95 389.13L595.65 390.44L597.36 391.70L599.06 392.90L600.77 394.03L602.47 395.10L604.18 396.11L605.88 397.04L607.59 397.90L609.29 398.69L610.99 399.40L612.70 400.03L614.40 400.57L616.11 401.02L617.81 401.39L619.52 401.66L621.22 401.83L622.93 401.90L624.63 401.86L626.34 401.71" stroke="#ff0000" stroke-width="1.4" fill="none" stroke-dasharray="1.4 4.0" stroke-dashoffset="0"/><path d="M355.29 335.01L357.00 333.86L358.70 332.80L360.40 331.83L362.11 330.94L363.81 330.10L365.52 329.31L367.22 328.57L368.93 327.86L370.63 327.17L372.34 326.51L374.04 325.86L375.75 325.21L377.45 324.57L379.16 323.93L380.86 323.28L382.57 322.62L384.27 321.95L385.98 321.27L387.68 320.57L389.38 319.86L391.09 319.12L392.79 318.37L394.50 317.59L396.20 316.80L397.91 315.99L399.61 315.15L401.32 314.30L403.02 313.44L404.73 312.55L406.43 311.65L408.14 310.74L409.84 309.82L411.55 308.88L413.25 307.94L414.96 307.00L416.66 306.05L418.36 305.09L420.07 304.14L421.77 303.20L423.48 302.26L425.18 301.33L426.89 300.41L428.59 299.50L430.30 298.61L432.00 297.74L433.71 296.89L435.41 296.07L437.12 295.27L438.82 294.50L440.53 293.76L442.23 293.05L443.93 292.38L445.64 291.75L447.34 291.16L449.05 290.61L450.75 290.11L452.46 289.65L454.16 289.24L455.87 288.88L457.57 288.57L459.28 288.31L460.98 288.11L462.69 287.96L464.39 287.87L466.10 287.83L467.80 287.86L469.51 287.94L471.21 288.09L472.91 288.29L474.62 288.56L476.32 288.88L478.03 289.27L479.73 289.72L481.44 290.24L483.14 290.81L484.85 291.45L486.55 292.15L488.26 292.91L489.96 293.73L491.67 294.61L493.37 295.56L495.08 296.56L496.78 297.61L498.49 298.73L500.19 299.90L501.89 301.13L503.60 302.41L505.30 303.74L507.01 305.12L508.71 306.56L510.42 308.04L512.12 309.56L513.83 311.14L515.53 312.75L517.24 314.41L518.94 316.11L520.65 317.84L522.35 319.61L524.06 321.42L525.76 323.25L527.46 325.12L529.17 327.02L530.87 328.94L532.58 330.88L534.28 332.85L535.99 334.83L537.69 336.84L539.40 338.85L541.10 340.89L542.81 342.93L544.51 344.98L546.22 347.04L547.92 349.10L549.63 351.16L551.33 353.23L553.04 355.29L554.74 357.34L556.44 359.39L558.15 361.44L559.85 363.47L561.56 365.48L563.26 367.48L564.97 369.47L566.67 371.43L568.38 373.38L570.08 375.30L571.79 377.19L573.49 379.06L575.20 380.89L576.90 382.70L578.61 384.47L580.31 386.20L582.02 387.90L583.72 389.55L585.42 391.17L587.13 392.74L588.83 394.26L590.54 395.73L592.24 397.16L593.95 398.53L595.65 399.84L597.36 401.10L599.06 402.30L600.77 403.43L602.47 404.50L604.18 405.51L605.88 406.44L607.59 407.30L609.29 408.09L610.99 408.80L612.70 409.43L614.40 409.97L616.11 410.42L617.81 410.79L619.52 411.06L621.22 411.23L622.93 411.30L624.63 411.26L626.34 411.11" stroke="#ff0000" stroke-width="1.4" fill="none" stroke-dasharray="1.4 4.0" stroke-dashoffset="0"/></g><text transform="translate(562.09 277.60) scale(0.953 1)" font-size="12.6" text-anchor="start" stroke="#2a2a2a" stroke-width="0.25">R</text><text transform="translate(570.81 271.00) scale(0.953 1)" font-size="8.568" text-anchor="start" stroke="#2a2a2a" stroke-width="0.25">2</text><text transform="translate(580.47 277.60) scale(0.744 1)" font-size="12.6" text-anchor="middle" stroke="#2a2a2a" stroke-width="0.25">=</text><text transform="translate(609.30 277.60) scale(0.953 1)" font-size="12.6" text-anchor="end" stroke="#2a2a2a" stroke-width="0.25">0.86</text></g></g></svg></body></html>
